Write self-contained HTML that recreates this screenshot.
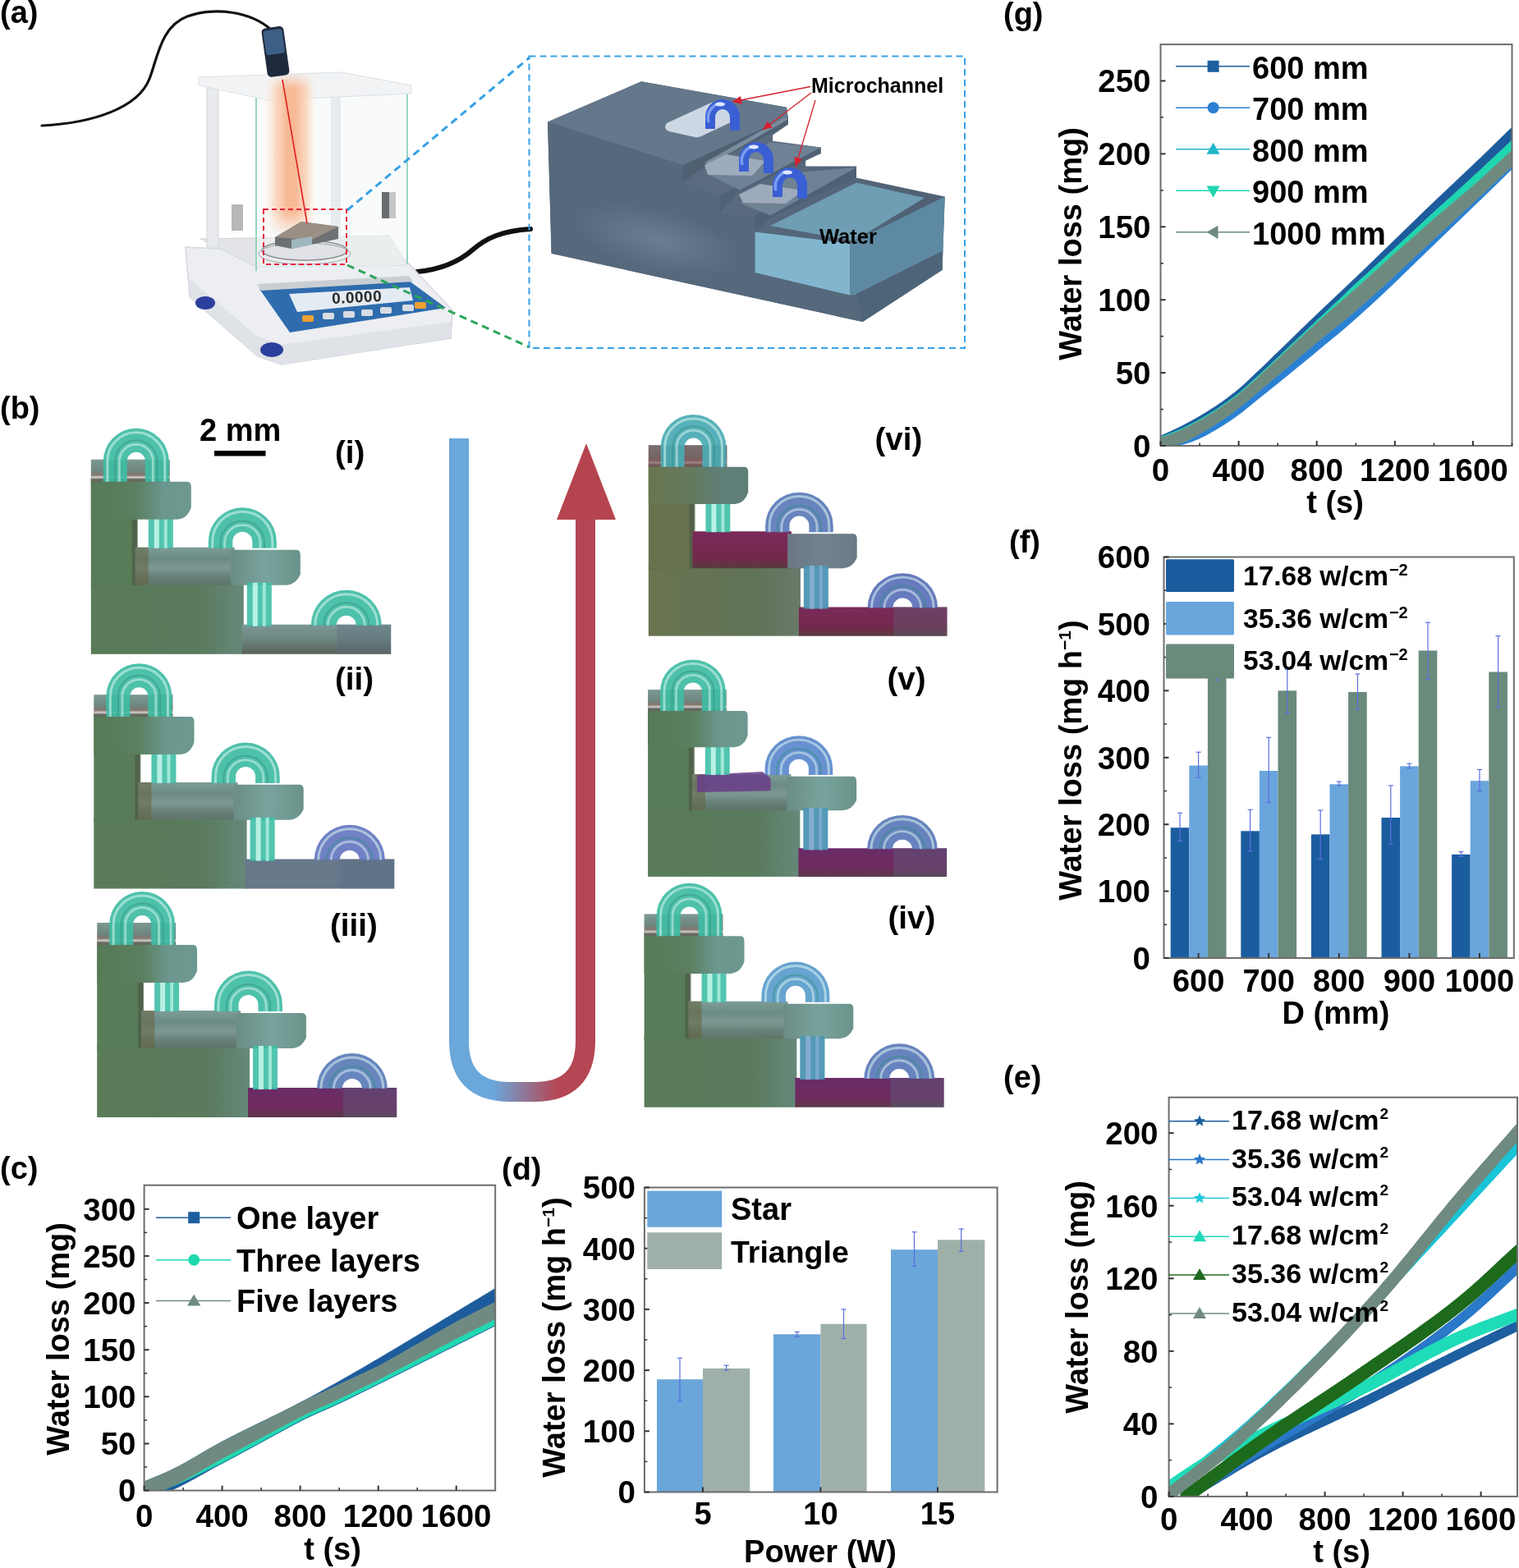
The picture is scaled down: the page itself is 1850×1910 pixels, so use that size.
<!DOCTYPE html><html><head><meta charset="utf-8"><title>Figure</title>
<style>html,body{margin:0;padding:0;background:#fff;}svg{display:block;}text{font-family:'Liberation Sans', Arial, sans-serif;font-weight:bold;}</style>
</head><body>
<svg width="1850" height="1910" viewBox="0 0 1850 1910">
<defs><linearGradient id="uarrow" x1="547" y1="0" x2="725" y2="0" gradientUnits="userSpaceOnUse"><stop offset="0" stop-color="#6aa7da"/><stop offset="0.3" stop-color="#6aa7da"/><stop offset="0.74" stop-color="#b54653"/><stop offset="1" stop-color="#b54653"/></linearGradient><linearGradient id="glow" x1="0" y1="0" x2="1" y2="0"><stop offset="0" stop-color="#ffffff" stop-opacity="0"/><stop offset="0.25" stop-color="#fbd2b8" stop-opacity="0.8"/><stop offset="0.45" stop-color="#f7b690" stop-opacity="0.95"/><stop offset="0.6" stop-color="#f7b690" stop-opacity="0.95"/><stop offset="0.8" stop-color="#fbd2b8" stop-opacity="0.8"/><stop offset="1" stop-color="#ffffff" stop-opacity="0"/></linearGradient><linearGradient id="glowv" x1="0" y1="0" x2="0" y2="1"><stop offset="0" stop-color="#fff" stop-opacity="0"/><stop offset="0.1" stop-color="#fff" stop-opacity="1"/><stop offset="0.85" stop-color="#fff" stop-opacity="1"/><stop offset="1" stop-color="#fff" stop-opacity="0"/></linearGradient><mask id="glowmask"><rect x="300" y="88" width="110" height="200" fill="url(#glowv)"/></mask><linearGradient id="frontface" x1="0" y1="0" x2="1" y2="0.3"><stop offset="0" stop-color="#4f6072"/><stop offset="0.5" stop-color="#5b6c80"/><stop offset="1" stop-color="#506174"/></linearGradient></defs>
<rect width="1850" height="1910" fill="#fff"/>
<defs><linearGradient id="pbody" x1="0" y1="0" x2="1" y2="0"><stop offset="0" stop-color="#5a7b58"/><stop offset="0.7" stop-color="#597a5c"/><stop offset="1" stop-color="#66887a"/></linearGradient><linearGradient id="pbodyvi" x1="0" y1="0" x2="1" y2="0"><stop offset="0" stop-color="#6a7450"/><stop offset="0.7" stop-color="#5f7356"/><stop offset="1" stop-color="#6a7a6a"/></linearGradient><linearGradient id="pplate" x1="0" y1="0" x2="0" y2="1"><stop offset="0" stop-color="#7d9a94"/><stop offset="0.5" stop-color="#6d857e"/><stop offset="0.68" stop-color="#86766c"/><stop offset="0.78" stop-color="#d0d2d0"/><stop offset="0.86" stop-color="#6a6860"/><stop offset="1" stop-color="#5d6a58"/></linearGradient><linearGradient id="plip" x1="0" y1="0" x2="1" y2="0"><stop offset="0" stop-color="#577a57"/><stop offset="0.45" stop-color="#5b7f60"/><stop offset="0.72" stop-color="#6b978e"/><stop offset="1" stop-color="#6c9890"/></linearGradient><linearGradient id="plipvi" x1="0" y1="0" x2="1" y2="0"><stop offset="0" stop-color="#687650"/><stop offset="0.45" stop-color="#647a5e"/><stop offset="0.72" stop-color="#5f7f78"/><stop offset="1" stop-color="#607e78"/></linearGradient><linearGradient id="pmid" x1="0" y1="0" x2="0" y2="1"><stop offset="0" stop-color="#7f9d98"/><stop offset="0.3" stop-color="#6c8a84"/><stop offset="0.55" stop-color="#7d9892"/><stop offset="0.8" stop-color="#657f78"/><stop offset="1" stop-color="#5e7468"/></linearGradient><linearGradient id="plip2" x1="0" y1="0" x2="1" y2="0"><stop offset="0" stop-color="#6b8d86"/><stop offset="0.5" stop-color="#78a39c"/><stop offset="1" stop-color="#6a928a"/></linearGradient><linearGradient id="pbot" x1="0" y1="0" x2="0" y2="1"><stop offset="0" stop-color="#7c9894"/><stop offset="0.5" stop-color="#6c8580"/><stop offset="1" stop-color="#5a625a"/></linearGradient><linearGradient id="pmag" x1="0" y1="0" x2="0" y2="1"><stop offset="0" stop-color="#6a2c68"/><stop offset="0.7" stop-color="#6e2a5e"/><stop offset="1" stop-color="#5a3a4a"/></linearGradient><linearGradient id="pmagvi" x1="0" y1="0" x2="0" y2="1"><stop offset="0" stop-color="#7a2a5a"/><stop offset="0.7" stop-color="#74284c"/><stop offset="1" stop-color="#5a3a40"/></linearGradient></defs>
<text x="0.0" y="28.0" font-size="38" text-anchor="start" fill="#000" >(a)</text>
<text x="0.0" y="510.0" font-size="38" text-anchor="start" fill="#000" >(b)</text>
<text x="0.0" y="1436.0" font-size="38" text-anchor="start" fill="#000" >(c)</text>
<text x="611.0" y="1437.0" font-size="38" text-anchor="start" fill="#000" >(d)</text>
<text x="1222.0" y="30.0" font-size="38" text-anchor="start" fill="#000" >(g)</text>
<text x="1229.0" y="673.0" font-size="38" text-anchor="start" fill="#000" >(f)</text>
<text x="1222.0" y="1325.0" font-size="38" text-anchor="start" fill="#000" >(e)</text>
<path d="M330,36 C305,14 262,8 228,20 C196,32 192,70 182,96 C168,132 112,150 51,153" fill="none" stroke="#111" stroke-width="3.2" stroke-linecap="round"/>
<path d="M508,331 C540,328 560,318 576,304 C592,290 612,281 646,279" fill="none" stroke="#111" stroke-width="6" stroke-linecap="round"/>
<polygon points="226.0,301.0 492.0,315.0 551.0,378.0 549.0,412.0 343.0,444.0 314.0,434.0 231.0,362.0" fill="#eceef1" stroke="#d5d9de" stroke-width="1.5"/>
<polygon points="231.0,340.0 314.0,410.0 343.0,420.0 549.0,392.0 549.0,412.0 343.0,444.0 314.0,434.0 231.0,362.0" fill="#dfe2e6" />
<polygon points="244.0,291.0 474.0,287.0 497.0,323.0 314.0,326.0" fill="#e2e4e7" stroke="#cfd3d8" stroke-width="1"/>
<polygon points="316.0,352.0 498.0,342.0 543.0,375.0 353.0,405.0" fill="#2f6cae" />
<polygon points="313.0,346.0 498.0,336.0 503.0,343.0 318.0,354.0" fill="#c9ced4" />
<polygon points="352.0,358.0 499.0,350.0 503.0,366.0 362.0,380.0" fill="#e3ebf3" />
<text x="404.0" y="368.5" font-size="19" text-anchor="start" fill="#2a2a2a" font-weight="normal" letter-spacing="0.5" transform="rotate(-3 434 361)">0.0000</text>
<rect x="368.0" y="384.0" width="14.0" height="8.0" fill="#f0a030" rx="2"/>
<rect x="393.0" y="381.0" width="14.0" height="8.0" fill="#d8dde4" rx="2"/>
<rect x="418.0" y="379.0" width="14.0" height="8.0" fill="#d8dde4" rx="2"/>
<rect x="440.0" y="377.0" width="14.0" height="8.0" fill="#d8dde4" rx="2"/>
<rect x="463.0" y="374.0" width="14.0" height="8.0" fill="#d8dde4" rx="2"/>
<rect x="490.0" y="371.0" width="14.0" height="8.0" fill="#d8dde4" rx="2"/>
<rect x="505.0" y="368.0" width="14.0" height="8.0" fill="#f0a030" rx="2"/>
<ellipse cx="250" cy="369" rx="12" ry="8" fill="#2b3f9c"/>
<ellipse cx="331" cy="426" rx="14" ry="9" fill="#2b3f9c"/>
<rect x="252.0" y="107.0" width="14.0" height="194.0" fill="#e8eaed" stroke="#d2d6da" stroke-width="1"/>
<rect x="403.0" y="104.0" width="12.0" height="191.0" fill="#dcdfe2" />
<polygon points="312.0,116.0 497.0,108.0 497.0,323.0 312.0,330.0" fill="#f3f8f7" fill-opacity="0.5"/>
<line x1="312.0" y1="116.0" x2="312.0" y2="330.0" stroke="#9ad3c3" stroke-width="2" />
<line x1="496.0" y1="108.0" x2="496.0" y2="322.0" stroke="#9ad3c3" stroke-width="2" />
<line x1="312.0" y1="116.0" x2="496.0" y2="108.0" stroke="#9ad3c3" stroke-width="1.5" />
<rect x="282.0" y="249.0" width="14.0" height="32.0" fill="#b6b8ba" />
<rect x="465.0" y="234.0" width="17.0" height="32.0" fill="#6a6d70" />
<rect x="474.0" y="234.0" width="8.0" height="32.0" fill="#c4c6c8" />
<polygon points="242.0,94.0 416.0,88.0 501.0,104.0 501.0,114.0 327.0,122.0 242.0,104.0" fill="#f1f3f5" stroke="#dde1e5" stroke-width="1"/>
<g mask="url(#glowmask)"><rect x="318" y="88" width="70" height="200" fill="url(#glow)"/></g>
<ellipse cx="371" cy="305" rx="52" ry="12" fill="#e0e2e5" stroke="#8e9296" stroke-width="1.5"/>
<ellipse cx="371" cy="309" rx="56" ry="13" fill="none" stroke="#a0a4a8" stroke-width="1"/>
<polygon points="335.0,289.0 367.0,270.0 412.0,276.0 412.0,291.0 355.0,303.0 335.0,299.0" fill="#6d7073" />
<polygon points="335.0,289.0 367.0,270.0 412.0,276.0 380.0,292.0" fill="#9a8f84" />
<polygon points="355.0,292.0 380.0,288.0 380.0,298.0 355.0,303.0" fill="#9fb7bf" />
<line x1="344.0" y1="97.0" x2="374.0" y2="272.0" stroke="#e0201e" stroke-width="1.6" />
<g transform="rotate(-8 335 63)"><rect x="322" y="33" width="27" height="60" rx="5" fill="#1e2a3c"/><rect x="324" y="36" width="23" height="30" rx="3" fill="#3d5f86"/></g>
<rect x="321" y="255" width="101" height="67" fill="none" stroke="#e8233f" stroke-width="2" stroke-dasharray="6 4"/>
<line x1="423.0" y1="256.0" x2="645.0" y2="70.0" stroke="#35a1e6" stroke-width="3" stroke-dasharray="9 6"/>
<line x1="423.0" y1="323.0" x2="645.0" y2="423.0" stroke="#2aa65a" stroke-width="3" stroke-dasharray="9 6"/>
<polygon points="667.0,148.6 781.0,99.3 958.1,130.7 959.7,145.5 959.7,151.7 941.2,164.6 941.2,171.7 999.7,179.4 999.7,187.1 981.2,192.3 981.2,202.5 1042.9,202.5 1042.9,216.4 1150.7,239.5 1147.6,328.8 1050.6,392.0 671.6,308.8" fill="url(#frontface)" />
<polygon points="667.0,148.6 781.0,99.3 958.1,130.7 959.7,142.4 864.2,197.9 831.8,201.0" fill="#65778b" />
<polygon points="667.0,148.6 831.8,201.0 831.8,222.5 876.5,237.9 876.5,259.5 919.6,265.7 919.6,331.9 1050.6,358.1 1050.6,392.0 671.6,308.8" fill="#56687b" />
<radialGradient id="ffhl" cx="0.5" cy="0.5" r="0.5"><stop offset="0" stop-color="#71849a" stop-opacity="0.75"/><stop offset="1" stop-color="#71849a" stop-opacity="0"/></radialGradient>
<ellipse cx="800" cy="292" rx="105" ry="38" fill="url(#ffhl)" transform="rotate(14 800 292)"/>
<polygon points="831.8,201.0 959.7,142.4 959.7,151.7 858.0,204.0 831.8,221.0" fill="#4e6072" />
<polygon points="858.0,197.9 956.6,142.4 959.7,145.5 864.2,201.0" fill="#7a8c9e" />
<polygon points="876.5,237.9 999.7,179.4 999.7,187.1 898.0,234.9 876.5,259.5" fill="#4f6174" />
<polygon points="864.2,213.3 938.1,173.2 999.7,179.4 901.1,231.8" fill="#6f8194" />
<polygon points="919.6,262.6 1042.9,202.5 1042.9,216.4 938.1,265.7 919.6,284.2" fill="#4f6174" />
<polygon points="901.1,247.2 968.9,210.2 1042.9,204.0 938.1,262.6" fill="#6f8194" />
<polygon points="858.0,201.0 884.0,188.0 932.0,196.0 916.0,214.0 862.0,213.0" fill="#9eabbc" />
<polygon points="900.0,237.0 926.0,224.0 978.0,232.0 957.0,248.0 905.0,247.0" fill="#9eabbc" />
<path d="M812,150 L864,126 Q868,124 872,125 L896,130 Q900,132 898,136 L897,142 Q896,146 892,148 L854,166 Q850,168 846,167 L815,160 Q810,158 810,154 Z" fill="#cdd7e3"/>
<polygon points="938.1,274.9 1042.9,222.5 1126.0,241.0 1039.8,293.4" fill="#6e9db4" />
<polygon points="919.6,282.6 1035.2,296.5 1035.2,359.6 919.6,331.9" fill="#82b6cf" />
<polygon points="1035.2,296.5 1150.7,239.5 1147.6,328.8 1050.6,392.0 1050.6,358.1 1035.2,359.6" fill="#5d8aa2" />
<polygon points="1042.9,358.1 1147.6,305.7 1147.6,328.8 1050.6,392.0" fill="#4e6478" />
<path d="M865.0,157.0 L865.0,143.0 A15,16 0 0 1 895.0,143.0 L895.0,159.0" fill="none" stroke="#3a5fd4" stroke-width="12"/>
<path d="M863.0,149.0 A17,18 0 0 1 878.0,126.0" fill="none" stroke="#7b9cf0" stroke-width="3.5"/>
<ellipse cx="877.0" cy="127.0" rx="6" ry="2.5" fill="#dfe8ff"/>
<path d="M906.0,209.0 L906.0,195.0 A15,16 0 0 1 936.0,195.0 L936.0,211.0" fill="none" stroke="#3a5fd4" stroke-width="12"/>
<path d="M904.0,201.0 A17,18 0 0 1 919.0,178.0" fill="none" stroke="#7b9cf0" stroke-width="3.5"/>
<ellipse cx="918.0" cy="179.0" rx="6" ry="2.5" fill="#dfe8ff"/>
<path d="M947.0,240.0 L947.0,226.0 A15,16 0 0 1 977.0,226.0 L977.0,242.0" fill="none" stroke="#3a5fd4" stroke-width="12"/>
<path d="M945.0,232.0 A17,18 0 0 1 960.0,209.0" fill="none" stroke="#7b9cf0" stroke-width="3.5"/>
<ellipse cx="959.0" cy="210.0" rx="6" ry="2.5" fill="#dfe8ff"/>
<line x1="987.0" y1="105.5" x2="892.0" y2="124.0" stroke="#d62030" stroke-width="1.3" />
<polygon points="892.0,124.0 903.8,126.8 901.8,117.0" fill="#d62030" />
<line x1="988.0" y1="113.0" x2="929.0" y2="158.0" stroke="#d62030" stroke-width="1.3" />
<polygon points="929.0,158.0 940.8,155.3 934.7,147.4" fill="#d62030" />
<line x1="993.0" y1="122.0" x2="969.0" y2="203.0" stroke="#d62030" stroke-width="1.3" />
<polygon points="969.0,203.0 976.9,193.9 967.3,191.0" fill="#d62030" />
<text x="988.0" y="112.5" font-size="25" text-anchor="start" fill="#000" >Microchannel</text>
<text x="998.0" y="296.5" font-size="25.5" text-anchor="start" fill="#000" >Water</text>
<rect x="644.5" y="68.5" width="530.5" height="355.5" fill="none" stroke="#35a1e6" stroke-width="2" stroke-dasharray="8 5"/>
<g transform="translate(110.8,559.7) scale(1.0000,1.0004)">
<rect x="0.0" y="150.0" width="186.0" height="87.0" fill="url(#pbody)" />
<rect x="0.0" y="20.0" width="56.0" height="135.0" fill="#587b58" />
<rect x="50.0" y="73.0" width="7.0" height="80.0" fill="#4c5a44" fill-opacity="0.7"/>
<rect x="0.0" y="0.0" width="96.0" height="28.0" fill="url(#pplate)" />
<path d="M54,107 L175,107 L175,153 L54,153 Z" fill="url(#pmid)"/>
<rect x="54.0" y="107.0" width="16.0" height="46.0" fill="#66643f" fill-opacity="0.55"/>
<path d="M170,110 L250,110 Q255,110 255,116 L255,140 Q250,152 238,153 L170,153 Z" fill="url(#plip2)"/>
<path d="M184,201 L365.4,201 L365.4,237 L184,237 Z" fill="url(#pbot)"/>
<rect x="300.0" y="201.0" width="65.4" height="36.0" fill="#5a6a80" fill-opacity="0.35"/>
<rect x="70.0" y="72.0" width="30.0" height="36.0" fill="#3fbfa6" fill-opacity="0.9"/>
<rect x="77.0" y="72.0" width="6.0" height="36.0" fill="#b8f0e4" />
<rect x="89.0" y="72.0" width="4.0" height="36.0" fill="#9fe8d8" />
<rect x="190.0" y="150.0" width="30.0" height="53.0" fill="#3fbfa6" fill-opacity="0.9"/>
<rect x="197.0" y="150.0" width="6.0" height="53.0" fill="#b8f0e4" />
<rect x="209.0" y="150.0" width="4.0" height="53.0" fill="#9fe8d8" />
<path d="M0,27 L117,27 Q122,27 122,33 L122,58 Q118,72 105,73 L0,73 Z" fill="url(#plip)"/>
<path d="M15.0,27.0 L15.0,2.0 A40,40 0 0 1 95.0,2.0 L95.0,27.0 L66.0,27.0 L66.0,2.0 A11,11 0 0 0 44.0,2.0 L44.0,27.0 Z" fill="#3fbca4" fill-opacity="0.92"/>
<path d="M29.5,27.0 L29.5,2.0 A25.5,25.5 0 0 1 80.5,2.0 L80.5,27.0" fill="none" stroke="#2f8f80" stroke-width="2" stroke-opacity="0.5"/>
<path d="M20.0,27.0 L20.0,2.0 A35,35 0 0 1 90.0,2.0 L90.0,27.0" fill="none" stroke="#dff8f2" stroke-width="3" stroke-opacity="0.55"/>
<path d="M34.5,27.0 L34.5,2.0 A20.5,20.5 0 0 1 75.5,2.0 L75.5,27.0" fill="none" stroke="#dff8f2" stroke-width="3" stroke-opacity="0.5"/>
<path d="M143.0,108.0 L143.0,100.0 A41.5,41.5 0 0 1 226.0,100.0 L226.0,108.0 L196.5,108.0 L196.5,100.0 A12,12 0 0 0 172.5,100.0 L172.5,108.0 Z" fill="#3fbca4" fill-opacity="0.92"/>
<path d="M157.8,108.0 L157.8,100.0 A26.75,26.75 0 0 1 211.2,100.0 L211.2,108.0" fill="none" stroke="#2f8f80" stroke-width="2" stroke-opacity="0.5"/>
<path d="M148.0,108.0 L148.0,100.0 A36.5,36.5 0 0 1 221.0,100.0 L221.0,108.0" fill="none" stroke="#dff8f2" stroke-width="3" stroke-opacity="0.55"/>
<path d="M162.8,108.0 L162.8,100.0 A21.75,21.75 0 0 1 206.2,100.0 L206.2,108.0" fill="none" stroke="#dff8f2" stroke-width="3" stroke-opacity="0.5"/>
<path d="M268.0,202.0 L268.0,202.0 A43,43 0 0 1 354.0,202.0 L354.0,202.0 L323.0,202.0 L323.0,202.0 A12,12 0 0 0 299.0,202.0 L299.0,202.0 Z" fill="#3fbca4" fill-opacity="0.92"/>
<path d="M283.5,202.0 L283.5,202.0 A27.5,27.5 0 0 1 338.5,202.0 L338.5,202.0" fill="none" stroke="#2f8f80" stroke-width="2" stroke-opacity="0.5"/>
<path d="M273.0,202.0 L273.0,202.0 A38,38 0 0 1 349.0,202.0 L349.0,202.0" fill="none" stroke="#dff8f2" stroke-width="3" stroke-opacity="0.55"/>
<path d="M288.5,202.0 L288.5,202.0 A22.5,22.5 0 0 1 333.5,202.0 L333.5,202.0" fill="none" stroke="#dff8f2" stroke-width="3" stroke-opacity="0.5"/>
</g>
<g transform="translate(114.3,846.2) scale(1.0016,0.9970)">
<rect x="0.0" y="150.0" width="186.0" height="87.0" fill="url(#pbody)" />
<rect x="0.0" y="20.0" width="56.0" height="135.0" fill="#587b58" />
<rect x="50.0" y="73.0" width="7.0" height="80.0" fill="#4c5a44" fill-opacity="0.7"/>
<rect x="0.0" y="0.0" width="96.0" height="28.0" fill="url(#pplate)" />
<path d="M54,107 L175,107 L175,153 L54,153 Z" fill="url(#pmid)"/>
<rect x="54.0" y="107.0" width="16.0" height="46.0" fill="#66643f" fill-opacity="0.55"/>
<path d="M170,110 L250,110 Q255,110 255,116 L255,140 Q250,152 238,153 L170,153 Z" fill="url(#plip2)"/>
<path d="M184,201 L365.4,201 L365.4,237 L184,237 Z" fill="#66788a"/>
<rect x="300.0" y="201.0" width="65.4" height="36.0" fill="#5a6a80" fill-opacity="0.35"/>
<rect x="70.0" y="72.0" width="30.0" height="36.0" fill="#3fbfa6" fill-opacity="0.9"/>
<rect x="77.0" y="72.0" width="6.0" height="36.0" fill="#b8f0e4" />
<rect x="89.0" y="72.0" width="4.0" height="36.0" fill="#9fe8d8" />
<rect x="190.0" y="150.0" width="30.0" height="53.0" fill="#3fbfa6" fill-opacity="0.9"/>
<rect x="197.0" y="150.0" width="6.0" height="53.0" fill="#b8f0e4" />
<rect x="209.0" y="150.0" width="4.0" height="53.0" fill="#9fe8d8" />
<path d="M0,27 L117,27 Q122,27 122,33 L122,58 Q118,72 105,73 L0,73 Z" fill="url(#plip)"/>
<path d="M15.0,27.0 L15.0,2.0 A40,40 0 0 1 95.0,2.0 L95.0,27.0 L66.0,27.0 L66.0,2.0 A11,11 0 0 0 44.0,2.0 L44.0,27.0 Z" fill="#3fbca4" fill-opacity="0.92"/>
<path d="M29.5,27.0 L29.5,2.0 A25.5,25.5 0 0 1 80.5,2.0 L80.5,27.0" fill="none" stroke="#2f8f80" stroke-width="2" stroke-opacity="0.5"/>
<path d="M20.0,27.0 L20.0,2.0 A35,35 0 0 1 90.0,2.0 L90.0,27.0" fill="none" stroke="#dff8f2" stroke-width="3" stroke-opacity="0.55"/>
<path d="M34.5,27.0 L34.5,2.0 A20.5,20.5 0 0 1 75.5,2.0 L75.5,27.0" fill="none" stroke="#dff8f2" stroke-width="3" stroke-opacity="0.5"/>
<path d="M143.0,108.0 L143.0,100.0 A41.5,41.5 0 0 1 226.0,100.0 L226.0,108.0 L196.5,108.0 L196.5,100.0 A12,12 0 0 0 172.5,100.0 L172.5,108.0 Z" fill="#3fbca4" fill-opacity="0.92"/>
<path d="M157.8,108.0 L157.8,100.0 A26.75,26.75 0 0 1 211.2,100.0 L211.2,108.0" fill="none" stroke="#2f8f80" stroke-width="2" stroke-opacity="0.5"/>
<path d="M148.0,108.0 L148.0,100.0 A36.5,36.5 0 0 1 221.0,100.0 L221.0,108.0" fill="none" stroke="#dff8f2" stroke-width="3" stroke-opacity="0.55"/>
<path d="M162.8,108.0 L162.8,100.0 A21.75,21.75 0 0 1 206.2,100.0 L206.2,108.0" fill="none" stroke="#dff8f2" stroke-width="3" stroke-opacity="0.5"/>
<path d="M268.0,202.0 L268.0,202.0 A43,43 0 0 1 354.0,202.0 L354.0,202.0 L323.0,202.0 L323.0,202.0 A12,12 0 0 0 299.0,202.0 L299.0,202.0 Z" fill="#6476c0" fill-opacity="0.92"/>
<path d="M283.5,202.0 L283.5,202.0 A27.5,27.5 0 0 1 338.5,202.0 L338.5,202.0" fill="none" stroke="#2f8f80" stroke-width="2" stroke-opacity="0.5"/>
<path d="M273.0,202.0 L273.0,202.0 A38,38 0 0 1 349.0,202.0 L349.0,202.0" fill="none" stroke="#dff8f2" stroke-width="3" stroke-opacity="0.55"/>
<path d="M288.5,202.0 L288.5,202.0 A22.5,22.5 0 0 1 333.5,202.0 L333.5,202.0" fill="none" stroke="#dff8f2" stroke-width="3" stroke-opacity="0.5"/>
</g>
<g transform="translate(118.2,1124.0) scale(0.9989,1.0000)">
<rect x="0.0" y="150.0" width="186.0" height="87.0" fill="url(#pbody)" />
<rect x="0.0" y="20.0" width="56.0" height="135.0" fill="#587b58" />
<rect x="50.0" y="73.0" width="7.0" height="80.0" fill="#4c5a44" fill-opacity="0.7"/>
<rect x="0.0" y="0.0" width="96.0" height="28.0" fill="url(#pplate)" />
<path d="M54,107 L175,107 L175,153 L54,153 Z" fill="url(#pmid)"/>
<rect x="54.0" y="107.0" width="16.0" height="46.0" fill="#66643f" fill-opacity="0.55"/>
<path d="M170,110 L250,110 Q255,110 255,116 L255,140 Q250,152 238,153 L170,153 Z" fill="url(#plip2)"/>
<path d="M184,201 L365.4,201 L365.4,237 L184,237 Z" fill="url(#pmag)"/>
<rect x="300.0" y="201.0" width="65.4" height="36.0" fill="#5a6a80" fill-opacity="0.35"/>
<rect x="70.0" y="72.0" width="30.0" height="36.0" fill="#3fbfa6" fill-opacity="0.9"/>
<rect x="77.0" y="72.0" width="6.0" height="36.0" fill="#b8f0e4" />
<rect x="89.0" y="72.0" width="4.0" height="36.0" fill="#9fe8d8" />
<rect x="190.0" y="150.0" width="30.0" height="53.0" fill="#3fbfa6" fill-opacity="0.9"/>
<rect x="197.0" y="150.0" width="6.0" height="53.0" fill="#b8f0e4" />
<rect x="209.0" y="150.0" width="4.0" height="53.0" fill="#9fe8d8" />
<path d="M0,27 L117,27 Q122,27 122,33 L122,58 Q118,72 105,73 L0,73 Z" fill="url(#plip)"/>
<path d="M15.0,27.0 L15.0,2.0 A40,40 0 0 1 95.0,2.0 L95.0,27.0 L66.0,27.0 L66.0,2.0 A11,11 0 0 0 44.0,2.0 L44.0,27.0 Z" fill="#3fbca4" fill-opacity="0.92"/>
<path d="M29.5,27.0 L29.5,2.0 A25.5,25.5 0 0 1 80.5,2.0 L80.5,27.0" fill="none" stroke="#2f8f80" stroke-width="2" stroke-opacity="0.5"/>
<path d="M20.0,27.0 L20.0,2.0 A35,35 0 0 1 90.0,2.0 L90.0,27.0" fill="none" stroke="#dff8f2" stroke-width="3" stroke-opacity="0.55"/>
<path d="M34.5,27.0 L34.5,2.0 A20.5,20.5 0 0 1 75.5,2.0 L75.5,27.0" fill="none" stroke="#dff8f2" stroke-width="3" stroke-opacity="0.5"/>
<path d="M143.0,108.0 L143.0,100.0 A41.5,41.5 0 0 1 226.0,100.0 L226.0,108.0 L196.5,108.0 L196.5,100.0 A12,12 0 0 0 172.5,100.0 L172.5,108.0 Z" fill="#3fbca4" fill-opacity="0.92"/>
<path d="M157.8,108.0 L157.8,100.0 A26.75,26.75 0 0 1 211.2,100.0 L211.2,108.0" fill="none" stroke="#2f8f80" stroke-width="2" stroke-opacity="0.5"/>
<path d="M148.0,108.0 L148.0,100.0 A36.5,36.5 0 0 1 221.0,100.0 L221.0,108.0" fill="none" stroke="#dff8f2" stroke-width="3" stroke-opacity="0.55"/>
<path d="M162.8,108.0 L162.8,100.0 A21.75,21.75 0 0 1 206.2,100.0 L206.2,108.0" fill="none" stroke="#dff8f2" stroke-width="3" stroke-opacity="0.5"/>
<path d="M268.0,202.0 L268.0,202.0 A43,43 0 0 1 354.0,202.0 L354.0,202.0 L323.0,202.0 L323.0,202.0 A12,12 0 0 0 299.0,202.0 L299.0,202.0 Z" fill="#5a7cb8" fill-opacity="0.92"/>
<path d="M283.5,202.0 L283.5,202.0 A27.5,27.5 0 0 1 338.5,202.0 L338.5,202.0" fill="none" stroke="#2f8f80" stroke-width="2" stroke-opacity="0.5"/>
<path d="M273.0,202.0 L273.0,202.0 A38,38 0 0 1 349.0,202.0 L349.0,202.0" fill="none" stroke="#dff8f2" stroke-width="3" stroke-opacity="0.55"/>
<path d="M288.5,202.0 L288.5,202.0 A22.5,22.5 0 0 1 333.5,202.0 L333.5,202.0" fill="none" stroke="#dff8f2" stroke-width="3" stroke-opacity="0.5"/>
</g>
<g transform="translate(789.8,542.3) scale(0.9953,0.9806)">
<rect x="0.0" y="150.0" width="186.0" height="87.0" fill="url(#pbodyvi)" />
<rect x="0.0" y="20.0" width="56.0" height="135.0" fill="#66724e" />
<rect x="50.0" y="73.0" width="7.0" height="80.0" fill="#4c5a44" fill-opacity="0.7"/>
<rect x="0.0" y="0.0" width="96.0" height="28.0" fill="url(#pplate)" />
<rect x="0.0" y="0.0" width="96.0" height="28.0" fill="#7a4a50" fill-opacity="0.55"/>
<path d="M54,107 L175,107 L175,153 L54,153 Z" fill="url(#pmagvi)"/>
<path d="M170,110 L250,110 Q255,110 255,116 L255,140 Q250,152 238,153 L170,153 Z" fill="url(#plip2)"/>
<path d="M170,110 L250,110 Q255,110 255,116 L255,140 Q250,152 238,153 L170,153 Z" fill="#6a5a80" fill-opacity="0.45"/>
<path d="M184,201 L365.4,201 L365.4,237 L184,237 Z" fill="url(#pmagvi)"/>
<rect x="300.0" y="201.0" width="65.4" height="36.0" fill="#5a6a80" fill-opacity="0.35"/>
<rect x="70.0" y="72.0" width="30.0" height="36.0" fill="#3fbfa6" fill-opacity="0.9"/>
<rect x="77.0" y="72.0" width="6.0" height="36.0" fill="#b8f0e4" />
<rect x="89.0" y="72.0" width="4.0" height="36.0" fill="#9fe8d8" />
<rect x="190.0" y="150.0" width="30.0" height="53.0" fill="#3fbfa6" fill-opacity="0.9"/>
<rect x="197.0" y="150.0" width="6.0" height="53.0" fill="#b8f0e4" />
<rect x="209.0" y="150.0" width="4.0" height="53.0" fill="#9fe8d8" />
<rect x="190.0" y="150.0" width="30.0" height="53.0" fill="#5a74c0" fill-opacity="0.55"/>
<path d="M0,27 L117,27 Q122,27 122,33 L122,58 Q118,72 105,73 L0,73 Z" fill="url(#plipvi)"/>
<path d="M15.0,27.0 L15.0,2.0 A40,40 0 0 1 95.0,2.0 L95.0,27.0 L66.0,27.0 L66.0,2.0 A11,11 0 0 0 44.0,2.0 L44.0,27.0 Z" fill="#4aaab4" fill-opacity="0.92"/>
<path d="M29.5,27.0 L29.5,2.0 A25.5,25.5 0 0 1 80.5,2.0 L80.5,27.0" fill="none" stroke="#2f8f80" stroke-width="2" stroke-opacity="0.5"/>
<path d="M20.0,27.0 L20.0,2.0 A35,35 0 0 1 90.0,2.0 L90.0,27.0" fill="none" stroke="#dff8f2" stroke-width="3" stroke-opacity="0.55"/>
<path d="M34.5,27.0 L34.5,2.0 A20.5,20.5 0 0 1 75.5,2.0 L75.5,27.0" fill="none" stroke="#dff8f2" stroke-width="3" stroke-opacity="0.5"/>
<path d="M143.0,108.0 L143.0,100.0 A41.5,41.5 0 0 1 226.0,100.0 L226.0,108.0 L196.5,108.0 L196.5,100.0 A12,12 0 0 0 172.5,100.0 L172.5,108.0 Z" fill="#5a7ab8" fill-opacity="0.92"/>
<path d="M157.8,108.0 L157.8,100.0 A26.75,26.75 0 0 1 211.2,100.0 L211.2,108.0" fill="none" stroke="#2f8f80" stroke-width="2" stroke-opacity="0.5"/>
<path d="M148.0,108.0 L148.0,100.0 A36.5,36.5 0 0 1 221.0,100.0 L221.0,108.0" fill="none" stroke="#dff8f2" stroke-width="3" stroke-opacity="0.55"/>
<path d="M162.8,108.0 L162.8,100.0 A21.75,21.75 0 0 1 206.2,100.0 L206.2,108.0" fill="none" stroke="#dff8f2" stroke-width="3" stroke-opacity="0.5"/>
<path d="M268.0,202.0 L268.0,202.0 A43,43 0 0 1 354.0,202.0 L354.0,202.0 L323.0,202.0 L323.0,202.0 A12,12 0 0 0 299.0,202.0 L299.0,202.0 Z" fill="#5a70b8" fill-opacity="0.92"/>
<path d="M283.5,202.0 L283.5,202.0 A27.5,27.5 0 0 1 338.5,202.0 L338.5,202.0" fill="none" stroke="#2f8f80" stroke-width="2" stroke-opacity="0.5"/>
<path d="M273.0,202.0 L273.0,202.0 A38,38 0 0 1 349.0,202.0 L349.0,202.0" fill="none" stroke="#dff8f2" stroke-width="3" stroke-opacity="0.55"/>
<path d="M288.5,202.0 L288.5,202.0 A22.5,22.5 0 0 1 333.5,202.0 L333.5,202.0" fill="none" stroke="#dff8f2" stroke-width="3" stroke-opacity="0.5"/>
</g>
<g transform="translate(789.1,840.1) scale(0.9962,0.9612)">
<rect x="0.0" y="150.0" width="186.0" height="87.0" fill="url(#pbody)" />
<rect x="0.0" y="20.0" width="56.0" height="135.0" fill="#587b58" />
<rect x="50.0" y="73.0" width="7.0" height="80.0" fill="#4c5a44" fill-opacity="0.7"/>
<rect x="0.0" y="0.0" width="96.0" height="28.0" fill="url(#pplate)" />
<path d="M54,107 L175,107 L175,153 L54,153 Z" fill="url(#pmid)"/>
<rect x="54.0" y="107.0" width="16.0" height="46.0" fill="#66643f" fill-opacity="0.55"/>
<path d="M60,108 L140,104 L150,112 L150,128 L60,130 Z" fill="#6a3c88" fill-opacity="0.85"/>
<path d="M170,110 L250,110 Q255,110 255,116 L255,140 Q250,152 238,153 L170,153 Z" fill="url(#plip2)"/>
<path d="M184,201 L365.4,201 L365.4,237 L184,237 Z" fill="url(#pmag)"/>
<rect x="300.0" y="201.0" width="65.4" height="36.0" fill="#5a6a80" fill-opacity="0.35"/>
<rect x="70.0" y="72.0" width="30.0" height="36.0" fill="#3fbfa6" fill-opacity="0.9"/>
<rect x="77.0" y="72.0" width="6.0" height="36.0" fill="#b8f0e4" />
<rect x="89.0" y="72.0" width="4.0" height="36.0" fill="#9fe8d8" />
<rect x="190.0" y="150.0" width="30.0" height="53.0" fill="#3fbfa6" fill-opacity="0.9"/>
<rect x="197.0" y="150.0" width="6.0" height="53.0" fill="#b8f0e4" />
<rect x="209.0" y="150.0" width="4.0" height="53.0" fill="#9fe8d8" />
<rect x="190.0" y="150.0" width="30.0" height="53.0" fill="#5a74c0" fill-opacity="0.55"/>
<path d="M0,27 L117,27 Q122,27 122,33 L122,58 Q118,72 105,73 L0,73 Z" fill="url(#plip)"/>
<path d="M15.0,27.0 L15.0,2.0 A40,40 0 0 1 95.0,2.0 L95.0,27.0 L66.0,27.0 L66.0,2.0 A11,11 0 0 0 44.0,2.0 L44.0,27.0 Z" fill="#3fbca4" fill-opacity="0.92"/>
<path d="M29.5,27.0 L29.5,2.0 A25.5,25.5 0 0 1 80.5,2.0 L80.5,27.0" fill="none" stroke="#2f8f80" stroke-width="2" stroke-opacity="0.5"/>
<path d="M20.0,27.0 L20.0,2.0 A35,35 0 0 1 90.0,2.0 L90.0,27.0" fill="none" stroke="#dff8f2" stroke-width="3" stroke-opacity="0.55"/>
<path d="M34.5,27.0 L34.5,2.0 A20.5,20.5 0 0 1 75.5,2.0 L75.5,27.0" fill="none" stroke="#dff8f2" stroke-width="3" stroke-opacity="0.5"/>
<path d="M143.0,108.0 L143.0,100.0 A41.5,41.5 0 0 1 226.0,100.0 L226.0,108.0 L196.5,108.0 L196.5,100.0 A12,12 0 0 0 172.5,100.0 L172.5,108.0 Z" fill="#5a88cc" fill-opacity="0.92"/>
<path d="M157.8,108.0 L157.8,100.0 A26.75,26.75 0 0 1 211.2,100.0 L211.2,108.0" fill="none" stroke="#2f8f80" stroke-width="2" stroke-opacity="0.5"/>
<path d="M148.0,108.0 L148.0,100.0 A36.5,36.5 0 0 1 221.0,100.0 L221.0,108.0" fill="none" stroke="#dff8f2" stroke-width="3" stroke-opacity="0.55"/>
<path d="M162.8,108.0 L162.8,100.0 A21.75,21.75 0 0 1 206.2,100.0 L206.2,108.0" fill="none" stroke="#dff8f2" stroke-width="3" stroke-opacity="0.5"/>
<path d="M268.0,202.0 L268.0,202.0 A43,43 0 0 1 354.0,202.0 L354.0,202.0 L323.0,202.0 L323.0,202.0 A12,12 0 0 0 299.0,202.0 L299.0,202.0 Z" fill="#5a78b8" fill-opacity="0.92"/>
<path d="M283.5,202.0 L283.5,202.0 A27.5,27.5 0 0 1 338.5,202.0 L338.5,202.0" fill="none" stroke="#2f8f80" stroke-width="2" stroke-opacity="0.5"/>
<path d="M273.0,202.0 L273.0,202.0 A38,38 0 0 1 349.0,202.0 L349.0,202.0" fill="none" stroke="#dff8f2" stroke-width="3" stroke-opacity="0.55"/>
<path d="M288.5,202.0 L288.5,202.0 A22.5,22.5 0 0 1 333.5,202.0 L333.5,202.0" fill="none" stroke="#dff8f2" stroke-width="3" stroke-opacity="0.5"/>
</g>
<g transform="translate(784.6,1113.4) scale(0.9989,0.9932)">
<rect x="0.0" y="150.0" width="186.0" height="87.0" fill="url(#pbody)" />
<rect x="0.0" y="20.0" width="56.0" height="135.0" fill="#587b58" />
<rect x="50.0" y="73.0" width="7.0" height="80.0" fill="#4c5a44" fill-opacity="0.7"/>
<rect x="0.0" y="0.0" width="96.0" height="28.0" fill="url(#pplate)" />
<path d="M54,107 L175,107 L175,153 L54,153 Z" fill="url(#pmid)"/>
<rect x="54.0" y="107.0" width="16.0" height="46.0" fill="#66643f" fill-opacity="0.55"/>
<path d="M170,110 L250,110 Q255,110 255,116 L255,140 Q250,152 238,153 L170,153 Z" fill="url(#plip2)"/>
<path d="M184,201 L365.4,201 L365.4,237 L184,237 Z" fill="url(#pmag)"/>
<rect x="300.0" y="201.0" width="65.4" height="36.0" fill="#5a6a80" fill-opacity="0.35"/>
<rect x="70.0" y="72.0" width="30.0" height="36.0" fill="#3fbfa6" fill-opacity="0.9"/>
<rect x="77.0" y="72.0" width="6.0" height="36.0" fill="#b8f0e4" />
<rect x="89.0" y="72.0" width="4.0" height="36.0" fill="#9fe8d8" />
<rect x="190.0" y="150.0" width="30.0" height="53.0" fill="#3fbfa6" fill-opacity="0.9"/>
<rect x="197.0" y="150.0" width="6.0" height="53.0" fill="#b8f0e4" />
<rect x="209.0" y="150.0" width="4.0" height="53.0" fill="#9fe8d8" />
<rect x="190.0" y="150.0" width="30.0" height="53.0" fill="#5a74c0" fill-opacity="0.55"/>
<path d="M0,27 L117,27 Q122,27 122,33 L122,58 Q118,72 105,73 L0,73 Z" fill="url(#plip)"/>
<path d="M15.0,27.0 L15.0,2.0 A40,40 0 0 1 95.0,2.0 L95.0,27.0 L66.0,27.0 L66.0,2.0 A11,11 0 0 0 44.0,2.0 L44.0,27.0 Z" fill="#3fbca4" fill-opacity="0.92"/>
<path d="M29.5,27.0 L29.5,2.0 A25.5,25.5 0 0 1 80.5,2.0 L80.5,27.0" fill="none" stroke="#2f8f80" stroke-width="2" stroke-opacity="0.5"/>
<path d="M20.0,27.0 L20.0,2.0 A35,35 0 0 1 90.0,2.0 L90.0,27.0" fill="none" stroke="#dff8f2" stroke-width="3" stroke-opacity="0.55"/>
<path d="M34.5,27.0 L34.5,2.0 A20.5,20.5 0 0 1 75.5,2.0 L75.5,27.0" fill="none" stroke="#dff8f2" stroke-width="3" stroke-opacity="0.5"/>
<path d="M143.0,108.0 L143.0,100.0 A41.5,41.5 0 0 1 226.0,100.0 L226.0,108.0 L196.5,108.0 L196.5,100.0 A12,12 0 0 0 172.5,100.0 L172.5,108.0 Z" fill="#5a9ccc" fill-opacity="0.92"/>
<path d="M157.8,108.0 L157.8,100.0 A26.75,26.75 0 0 1 211.2,100.0 L211.2,108.0" fill="none" stroke="#2f8f80" stroke-width="2" stroke-opacity="0.5"/>
<path d="M148.0,108.0 L148.0,100.0 A36.5,36.5 0 0 1 221.0,100.0 L221.0,108.0" fill="none" stroke="#dff8f2" stroke-width="3" stroke-opacity="0.55"/>
<path d="M162.8,108.0 L162.8,100.0 A21.75,21.75 0 0 1 206.2,100.0 L206.2,108.0" fill="none" stroke="#dff8f2" stroke-width="3" stroke-opacity="0.5"/>
<path d="M268.0,202.0 L268.0,202.0 A43,43 0 0 1 354.0,202.0 L354.0,202.0 L323.0,202.0 L323.0,202.0 A12,12 0 0 0 299.0,202.0 L299.0,202.0 Z" fill="#5a78b8" fill-opacity="0.92"/>
<path d="M283.5,202.0 L283.5,202.0 A27.5,27.5 0 0 1 338.5,202.0 L338.5,202.0" fill="none" stroke="#2f8f80" stroke-width="2" stroke-opacity="0.5"/>
<path d="M273.0,202.0 L273.0,202.0 A38,38 0 0 1 349.0,202.0 L349.0,202.0" fill="none" stroke="#dff8f2" stroke-width="3" stroke-opacity="0.55"/>
<path d="M288.5,202.0 L288.5,202.0 A22.5,22.5 0 0 1 333.5,202.0 L333.5,202.0" fill="none" stroke="#dff8f2" stroke-width="3" stroke-opacity="0.5"/>
</g>
<text x="243.0" y="536.5" font-size="38" text-anchor="start" fill="#000" >2 mm</text>
<rect x="261.0" y="549.0" width="62.5" height="6.5" fill="#000" />
<text x="408.0" y="564.0" font-size="38.5" text-anchor="start" fill="#000" >(i)</text>
<text x="408.0" y="839.5" font-size="38.5" text-anchor="start" fill="#000" >(ii)</text>
<text x="402.0" y="1140.0" font-size="38.5" text-anchor="start" fill="#000" >(iii)</text>
<text x="1065.5" y="547.5" font-size="38.5" text-anchor="start" fill="#000" >(vi)</text>
<text x="1080.5" y="839.5" font-size="38.5" text-anchor="start" fill="#000" >(v)</text>
<text x="1081.5" y="1131.0" font-size="38.5" text-anchor="start" fill="#000" >(iv)</text>
<path d="M559,534 L559,1268 Q559,1330 621,1330 L651,1330 Q713,1330 713,1268 L713,628" fill="none" stroke="url(#uarrow)" stroke-width="24"/>
<polygon points="714.0,540.0 750.0,633.0 678.0,633.0" fill="#b5444f" />
<clipPath id="clipg"><rect x="1413.5" y="54.05000000000001" width="428.0" height="488.95"/></clipPath>
<g clip-path="url(#clipg)">
<polygon points="1413.5,531.0 1418.3,528.8 1423.0,526.7 1427.8,524.5 1432.5,522.3 1437.3,520.0 1442.0,517.6 1446.8,515.0 1451.5,512.4 1456.3,509.8 1461.1,507.0 1465.8,504.2 1470.6,501.3 1475.3,498.3 1480.1,495.2 1484.8,492.0 1489.6,488.7 1494.3,485.2 1499.1,481.6 1503.9,477.9 1508.6,474.0 1513.4,469.9 1518.1,465.6 1522.9,461.1 1527.6,456.5 1532.4,452.0 1537.1,447.5 1541.9,442.9 1546.7,438.2 1551.4,433.6 1556.2,429.0 1560.9,424.4 1565.7,419.8 1570.4,415.2 1575.2,410.6 1579.9,405.9 1584.7,401.3 1589.5,396.7 1594.2,392.1 1599.0,387.6 1603.7,383.0 1608.5,378.5 1613.2,374.0 1618.0,369.5 1622.7,365.0 1627.5,360.5 1632.3,356.0 1637.0,351.5 1641.8,347.0 1646.5,342.5 1651.3,338.0 1656.0,333.4 1660.8,328.9 1665.5,324.3 1670.3,319.7 1675.1,315.1 1679.8,310.4 1684.6,305.8 1689.3,301.2 1694.1,296.6 1698.8,292.0 1703.6,287.4 1708.3,282.8 1713.1,278.2 1717.9,273.6 1722.6,268.9 1727.4,264.3 1732.1,259.7 1736.9,255.1 1741.6,250.6 1746.4,246.0 1751.1,241.5 1755.9,237.0 1760.7,232.5 1765.4,228.0 1770.2,223.5 1774.9,219.0 1779.7,214.5 1784.4,210.0 1789.2,205.5 1793.9,201.0 1798.7,196.4 1803.5,191.9 1808.2,187.3 1813.0,182.7 1817.7,178.1 1822.5,173.4 1827.2,168.8 1832.0,164.2 1836.7,159.6 1841.5,155.0 1841.5,170.8 1836.7,175.3 1832.0,179.7 1827.2,184.2 1822.5,188.6 1817.7,193.1 1813.0,197.6 1808.2,202.0 1803.5,206.5 1798.7,210.9 1793.9,215.3 1789.2,219.6 1784.4,223.9 1779.7,228.3 1774.9,232.6 1770.2,236.9 1765.4,241.2 1760.7,245.5 1755.9,249.8 1751.1,254.1 1746.4,258.5 1741.6,262.8 1736.9,267.2 1732.1,271.6 1727.4,276.0 1722.6,280.4 1717.9,284.8 1713.1,289.2 1708.3,293.6 1703.6,298.0 1698.8,302.4 1694.1,306.7 1689.3,311.1 1684.6,315.4 1679.8,319.7 1675.1,324.1 1670.3,328.4 1665.5,332.7 1660.8,337.0 1656.0,341.2 1651.3,345.5 1646.5,350.1 1641.8,354.6 1637.0,359.2 1632.3,363.7 1627.5,368.2 1622.7,372.6 1618.0,377.1 1613.2,381.6 1608.5,386.1 1603.7,390.6 1599.0,395.1 1594.2,399.6 1589.5,404.1 1584.7,408.5 1579.9,413.0 1575.2,417.5 1570.4,422.0 1565.7,426.5 1560.9,431.0 1556.2,435.5 1551.4,439.9 1546.7,444.4 1541.9,448.9 1537.1,453.4 1532.4,457.8 1527.6,462.1 1522.9,466.5 1518.1,470.8 1513.4,475.0 1508.6,479.0 1503.9,482.7 1499.1,486.3 1494.3,489.8 1489.6,493.1 1484.8,496.4 1480.1,499.5 1475.3,502.5 1470.6,505.5 1465.8,508.3 1461.1,511.1 1456.3,513.7 1451.5,516.2 1446.8,518.6 1442.0,520.9 1437.3,523.1 1432.5,525.1 1427.8,527.0 1423.0,528.8 1418.3,530.6 1413.5,532.4" fill="#1d5c9c" stroke="#1d5c9c" stroke-width="0.6"/>
<polygon points="1413.5,532.4 1418.3,530.6 1423.0,528.8 1427.8,527.0 1432.5,525.1 1437.3,523.1 1442.0,520.9 1446.8,518.6 1451.5,516.2 1456.3,513.7 1461.1,511.1 1465.8,508.3 1470.6,505.5 1475.3,502.5 1480.1,499.5 1484.8,496.4 1489.6,493.1 1494.3,489.8 1499.1,486.3 1503.9,482.7 1508.6,479.0 1513.4,475.0 1518.1,470.8 1522.9,466.5 1527.6,462.1 1532.4,457.8 1537.1,453.4 1541.9,448.9 1546.7,444.4 1551.4,439.9 1556.2,435.5 1560.9,431.0 1565.7,426.5 1570.4,422.0 1575.2,417.5 1579.9,413.0 1584.7,408.5 1589.5,404.1 1594.2,399.6 1599.0,395.1 1603.7,390.6 1608.5,386.1 1613.2,381.6 1618.0,377.1 1622.7,372.6 1627.5,368.2 1632.3,363.7 1637.0,359.2 1641.8,354.6 1646.5,350.1 1651.3,345.5 1656.0,341.2 1660.8,337.0 1665.5,332.7 1670.3,328.4 1675.1,324.1 1679.8,319.7 1684.6,315.4 1689.3,311.1 1694.1,306.7 1698.8,302.4 1703.6,298.0 1708.3,293.6 1713.1,289.2 1717.9,284.8 1722.6,280.4 1727.4,276.0 1732.1,271.6 1736.9,267.2 1741.6,262.8 1746.4,258.5 1751.1,254.1 1755.9,249.8 1760.7,245.5 1765.4,241.2 1770.2,236.9 1774.9,232.6 1779.7,228.3 1784.4,223.9 1789.2,219.6 1793.9,215.3 1798.7,210.9 1803.5,206.5 1808.2,202.0 1813.0,197.6 1817.7,193.1 1822.5,188.6 1827.2,184.2 1832.0,179.7 1836.7,175.3 1841.5,170.8 1841.5,183.1 1836.7,187.4 1832.0,191.8 1827.2,196.1 1822.5,200.5 1817.7,204.8 1813.0,209.2 1808.2,213.5 1803.5,217.9 1798.7,222.2 1793.9,226.5 1789.2,230.5 1784.4,234.6 1779.7,238.6 1774.9,242.6 1770.2,246.7 1765.4,250.7 1760.7,254.7 1755.9,258.7 1751.1,262.8 1746.4,266.8 1741.6,270.9 1736.9,275.1 1732.1,279.3 1727.4,283.5 1722.6,287.7 1717.9,291.9 1713.1,296.1 1708.3,300.3 1703.6,304.5 1698.8,308.6 1694.1,313.0 1689.3,317.3 1684.6,321.6 1679.8,325.9 1675.1,330.2 1670.3,334.5 1665.5,338.8 1660.8,343.0 1656.0,347.3 1651.3,351.5 1646.5,355.8 1641.8,360.0 1637.0,364.1 1632.3,368.3 1627.5,372.5 1622.7,376.6 1618.0,380.8 1613.2,384.9 1608.5,389.1 1603.7,393.4 1599.0,397.7 1594.2,402.1 1589.5,406.5 1584.7,410.9 1579.9,415.3 1575.2,419.7 1570.4,424.1 1565.7,428.6 1560.9,433.0 1556.2,437.4 1551.4,441.8 1546.7,446.3 1541.9,450.7 1537.1,455.1 1532.4,459.5 1527.6,463.8 1522.9,468.1 1518.1,472.4 1513.4,476.6 1508.6,480.5 1503.9,484.2 1499.1,487.8 1494.3,491.3 1489.6,494.6 1484.8,497.8 1480.1,500.9 1475.3,504.0 1470.6,506.9 1465.8,509.7 1461.1,512.4 1456.3,515.0 1451.5,517.5 1446.8,519.9 1442.0,522.2 1437.3,524.4 1432.5,526.4 1427.8,528.2 1423.0,530.0 1418.3,531.7 1413.5,533.4" fill="#1fd6b0" stroke="#1fd6b0" stroke-width="0.6"/>
<polygon points="1413.5,533.4 1418.3,531.7 1423.0,530.0 1427.8,528.2 1432.5,526.4 1437.3,524.4 1442.0,522.2 1446.8,519.9 1451.5,517.5 1456.3,515.0 1461.1,512.4 1465.8,509.7 1470.6,506.9 1475.3,504.0 1480.1,500.9 1484.8,497.8 1489.6,494.6 1494.3,491.3 1499.1,487.8 1503.9,484.2 1508.6,480.5 1513.4,476.6 1518.1,472.4 1522.9,468.1 1527.6,463.8 1532.4,459.5 1537.1,455.1 1541.9,450.7 1546.7,446.3 1551.4,441.8 1556.2,437.4 1560.9,433.0 1565.7,428.6 1570.4,424.1 1575.2,419.7 1579.9,415.3 1584.7,410.9 1589.5,406.5 1594.2,402.1 1599.0,397.7 1603.7,393.4 1608.5,389.1 1613.2,384.9 1618.0,380.8 1622.7,376.6 1627.5,372.5 1632.3,368.3 1637.0,364.1 1641.8,360.0 1646.5,355.8 1651.3,351.5 1656.0,347.3 1660.8,343.0 1665.5,338.8 1670.3,334.5 1675.1,330.2 1679.8,325.9 1684.6,321.6 1689.3,317.3 1694.1,313.0 1698.8,308.6 1703.6,304.5 1708.3,300.3 1713.1,296.1 1717.9,291.9 1722.6,287.7 1727.4,283.5 1732.1,279.3 1736.9,275.1 1741.6,270.9 1746.4,266.8 1751.1,262.8 1755.9,258.7 1760.7,254.7 1765.4,250.7 1770.2,246.7 1774.9,242.6 1779.7,238.6 1784.4,234.6 1789.2,230.5 1793.9,226.5 1798.7,222.2 1803.5,217.9 1808.2,213.5 1813.0,209.2 1817.7,204.8 1822.5,200.5 1827.2,196.1 1832.0,191.8 1836.7,187.4 1841.5,183.1 1841.5,202.9 1836.7,207.4 1832.0,212.0 1827.2,216.5 1822.5,221.0 1817.7,225.5 1813.0,230.0 1808.2,234.5 1803.5,239.0 1798.7,243.5 1793.9,247.9 1789.2,252.3 1784.4,256.7 1779.7,261.0 1774.9,265.4 1770.2,269.9 1765.4,274.3 1760.7,278.6 1755.9,283.0 1751.1,287.4 1746.4,291.8 1741.6,296.2 1736.9,300.6 1732.1,305.0 1727.4,309.5 1722.6,313.9 1717.9,318.4 1713.1,322.8 1708.3,327.3 1703.6,331.8 1698.8,336.2 1694.1,340.6 1689.3,345.0 1684.6,349.4 1679.8,353.7 1675.1,357.9 1670.3,362.2 1665.5,366.4 1660.8,370.6 1656.0,374.8 1651.3,379.0 1646.5,383.0 1641.8,387.0 1637.0,390.9 1632.3,394.7 1627.5,398.6 1622.7,402.4 1618.0,406.2 1613.2,410.0 1608.5,413.8 1603.7,417.6 1599.0,421.7 1594.2,425.7 1589.5,429.8 1584.7,433.8 1579.9,437.8 1575.2,441.9 1570.4,445.9 1565.7,449.9 1560.9,453.9 1556.2,457.9 1551.4,461.9 1546.7,465.9 1541.9,469.9 1537.1,473.9 1532.4,477.8 1527.6,481.9 1522.9,485.9 1518.1,489.9 1513.4,493.8 1508.6,497.6 1503.9,501.2 1499.1,504.8 1494.3,508.2 1489.6,511.5 1484.8,514.6 1480.1,517.8 1475.3,520.8 1470.6,523.7 1465.8,526.5 1461.1,529.1 1456.3,532.0 1451.5,534.6 1446.8,537.0 1442.0,539.1 1437.3,540.9 1432.5,541.9 1427.8,542.5 1423.0,542.7 1418.3,542.8 1413.5,543.0" fill="#6e8a7e" stroke="#6e8a7e" stroke-width="0.6"/>
<polygon points="1413.5,543.0 1418.3,542.8 1423.0,542.7 1427.8,542.5 1432.5,541.9 1437.3,540.9 1442.0,539.1 1446.8,537.0 1451.5,534.6 1456.3,532.0 1461.1,529.1 1465.8,526.5 1470.6,523.7 1475.3,520.8 1480.1,517.8 1484.8,514.6 1489.6,511.5 1494.3,508.2 1499.1,504.8 1503.9,501.2 1508.6,497.6 1513.4,493.8 1518.1,489.9 1522.9,485.9 1527.6,481.9 1532.4,477.8 1537.1,473.9 1541.9,469.9 1546.7,465.9 1551.4,461.9 1556.2,457.9 1560.9,453.9 1565.7,449.9 1570.4,445.9 1575.2,441.9 1579.9,437.8 1584.7,433.8 1589.5,429.8 1594.2,425.7 1599.0,421.7 1603.7,417.6 1608.5,413.8 1613.2,410.0 1618.0,406.2 1622.7,402.4 1627.5,398.6 1632.3,394.7 1637.0,390.9 1641.8,387.0 1646.5,383.0 1651.3,379.0 1656.0,374.8 1660.8,370.6 1665.5,366.4 1670.3,362.2 1675.1,357.9 1679.8,353.7 1684.6,349.4 1689.3,345.0 1694.1,340.6 1698.8,336.2 1703.6,331.8 1708.3,327.3 1713.1,322.8 1717.9,318.4 1722.6,313.9 1727.4,309.5 1732.1,305.0 1736.9,300.6 1741.6,296.2 1746.4,291.8 1751.1,287.4 1755.9,283.0 1760.7,278.6 1765.4,274.3 1770.2,269.9 1774.9,265.4 1779.7,261.0 1784.4,256.7 1789.2,252.3 1793.9,247.9 1798.7,243.5 1803.5,239.0 1808.2,234.5 1813.0,230.0 1817.7,225.5 1822.5,221.0 1827.2,216.5 1832.0,212.0 1836.7,207.4 1841.5,202.9 1841.5,206.0 1836.7,210.6 1832.0,215.2 1827.2,219.8 1822.5,224.4 1817.7,229.1 1813.0,233.7 1808.2,238.3 1803.5,242.9 1798.7,247.4 1793.9,252.0 1789.2,256.6 1784.4,261.2 1779.7,265.8 1774.9,270.4 1770.2,275.0 1765.4,279.6 1760.7,284.2 1755.9,288.8 1751.1,293.4 1746.4,298.0 1741.6,302.6 1736.9,307.1 1732.1,311.7 1727.4,316.3 1722.6,320.9 1717.9,325.6 1713.1,330.2 1708.3,334.8 1703.6,339.4 1698.8,344.0 1694.1,348.6 1689.3,353.1 1684.6,357.6 1679.8,362.0 1675.1,366.4 1670.3,370.8 1665.5,375.1 1660.8,379.4 1656.0,383.7 1651.3,388.0 1646.5,392.2 1641.8,396.3 1637.0,400.4 1632.3,404.4 1627.5,408.4 1622.7,412.3 1618.0,416.2 1613.2,420.1 1608.5,424.1 1603.7,428.0 1599.0,432.0 1594.2,435.9 1589.5,439.8 1584.7,443.7 1579.9,447.6 1575.2,451.5 1570.4,455.4 1565.7,459.3 1560.9,463.1 1556.2,467.0 1551.4,470.8 1546.7,474.6 1541.9,478.4 1537.1,482.2 1532.4,486.0 1527.6,489.9 1522.9,493.8 1518.1,497.6 1513.4,501.4 1508.6,505.0 1503.9,508.4 1499.1,511.8 1494.3,515.0 1489.6,518.1 1484.8,521.0 1480.1,523.8 1475.3,526.6 1470.6,529.2 1465.8,531.7 1461.1,534.0 1456.3,536.1 1451.5,537.9 1446.8,539.5 1442.0,540.9 1437.3,542.0 1432.5,542.7 1427.8,543.0 1423.0,543.0 1418.3,542.9 1413.5,543.0" fill="#2a80d2" stroke="#2a80d2" stroke-width="0.6"/>
</g>
<rect x="1413.5" y="54.1" width="428.0" height="488.9" fill="none" stroke="#6d6d6d" stroke-width="2"/>
<line x1="1413.5" y1="543.0" x2="1419.5" y2="543.0" stroke="#333" stroke-width="2" />
<text x="1401.5" y="556.8" font-size="38.5" text-anchor="end" fill="#000" >0</text>
<line x1="1413.5" y1="454.1" x2="1419.5" y2="454.1" stroke="#333" stroke-width="2" />
<text x="1401.5" y="467.9" font-size="38.5" text-anchor="end" fill="#000" >50</text>
<line x1="1413.5" y1="365.2" x2="1419.5" y2="365.2" stroke="#333" stroke-width="2" />
<text x="1401.5" y="379.0" font-size="38.5" text-anchor="end" fill="#000" >100</text>
<line x1="1413.5" y1="276.3" x2="1419.5" y2="276.3" stroke="#333" stroke-width="2" />
<text x="1401.5" y="290.1" font-size="38.5" text-anchor="end" fill="#000" >150</text>
<line x1="1413.5" y1="187.4" x2="1419.5" y2="187.4" stroke="#333" stroke-width="2" />
<text x="1401.5" y="201.2" font-size="38.5" text-anchor="end" fill="#000" >200</text>
<line x1="1413.5" y1="98.5" x2="1419.5" y2="98.5" stroke="#333" stroke-width="2" />
<text x="1401.5" y="112.3" font-size="38.5" text-anchor="end" fill="#000" >250</text>
<line x1="1413.5" y1="498.6" x2="1417.0" y2="498.6" stroke="#333" stroke-width="1.5" />
<line x1="1413.5" y1="409.6" x2="1417.0" y2="409.6" stroke="#333" stroke-width="1.5" />
<line x1="1413.5" y1="320.8" x2="1417.0" y2="320.8" stroke="#333" stroke-width="1.5" />
<line x1="1413.5" y1="231.9" x2="1417.0" y2="231.9" stroke="#333" stroke-width="1.5" />
<line x1="1413.5" y1="142.9" x2="1417.0" y2="142.9" stroke="#333" stroke-width="1.5" />
<line x1="1413.5" y1="543.0" x2="1413.5" y2="537.0" stroke="#333" stroke-width="2" />
<text x="1413.5" y="586.0" font-size="38.5" text-anchor="middle" fill="#000" >0</text>
<line x1="1508.6" y1="543.0" x2="1508.6" y2="537.0" stroke="#333" stroke-width="2" />
<text x="1508.6" y="586.0" font-size="38.5" text-anchor="middle" fill="#000" >400</text>
<line x1="1603.7" y1="543.0" x2="1603.7" y2="537.0" stroke="#333" stroke-width="2" />
<text x="1603.7" y="586.0" font-size="38.5" text-anchor="middle" fill="#000" >800</text>
<line x1="1698.8" y1="543.0" x2="1698.8" y2="537.0" stroke="#333" stroke-width="2" />
<text x="1698.8" y="586.0" font-size="38.5" text-anchor="middle" fill="#000" >1200</text>
<line x1="1793.9" y1="543.0" x2="1793.9" y2="537.0" stroke="#333" stroke-width="2" />
<text x="1793.9" y="586.0" font-size="38.5" text-anchor="middle" fill="#000" >1600</text>
<line x1="1461.1" y1="543.0" x2="1461.1" y2="539.5" stroke="#333" stroke-width="1.5" />
<line x1="1556.2" y1="543.0" x2="1556.2" y2="539.5" stroke="#333" stroke-width="1.5" />
<line x1="1651.3" y1="543.0" x2="1651.3" y2="539.5" stroke="#333" stroke-width="1.5" />
<line x1="1746.4" y1="543.0" x2="1746.4" y2="539.5" stroke="#333" stroke-width="1.5" />
<line x1="1841.5" y1="543.0" x2="1841.5" y2="539.5" stroke="#333" stroke-width="1.5" />
<text x="1626.0" y="625.0" font-size="38" text-anchor="middle" fill="#000" >t (s)</text>
<text x="0" y="0" font-size="38" text-anchor="middle" transform="translate(1317.0,297.0) rotate(-90)">Water loss (mg)</text>
<line x1="1432.0" y1="80.8" x2="1522.0" y2="80.8" stroke="#1d5f9f" stroke-width="1.5" />
<rect x="1470.6" y="73.8" width="14.0" height="14.0" fill="#1d5f9f" />
<text x="1525.0" y="95.8" font-size="38" text-anchor="start" fill="#000" >600 mm</text>
<line x1="1432.0" y1="131.3" x2="1522.0" y2="131.3" stroke="#2a7fd0" stroke-width="1.5" />
<circle cx="1477.6" cy="131.3" r="7.0" fill="#2a7fd0"/>
<text x="1525.0" y="146.3" font-size="38" text-anchor="start" fill="#000" >700 mm</text>
<line x1="1432.0" y1="181.8" x2="1522.0" y2="181.8" stroke="#1fb6c8" stroke-width="1.5" />
<polygon points="1477.6,173.8 1485.6,187.8 1469.5,187.8" fill="#1fb6c8" />
<text x="1525.0" y="196.8" font-size="38" text-anchor="start" fill="#000" >800 mm</text>
<line x1="1432.0" y1="232.3" x2="1522.0" y2="232.3" stroke="#1fd6b0" stroke-width="1.5" />
<polygon points="1477.6,240.4 1485.6,226.4 1469.5,226.4" fill="#1fd6b0" />
<text x="1525.0" y="247.3" font-size="38" text-anchor="start" fill="#000" >900 mm</text>
<line x1="1432.0" y1="282.8" x2="1522.0" y2="282.8" stroke="#6c8a7c" stroke-width="1.5" />
<polygon points="1469.5,282.8 1483.5,274.8 1483.5,290.9" fill="#6c8a7c" />
<text x="1525.0" y="297.8" font-size="38" text-anchor="start" fill="#000" >1000 mm</text>
<rect x="1425.7" y="1008.2" width="22.6" height="158.8" fill="#1a5d9e" />
<rect x="1448.3" y="932.5" width="22.6" height="234.5" fill="#6aa5dc" />
<rect x="1470.9" y="825.0" width="22.6" height="342.0" fill="#6a8a7b" />
<line x1="1437.0" y1="1024.5" x2="1437.0" y2="990.3" stroke="#5a6ee0" stroke-width="1.2" />
<line x1="1434.0" y1="990.3" x2="1440.0" y2="990.3" stroke="#5a6ee0" stroke-width="1.2" />
<line x1="1434.0" y1="1024.5" x2="1440.0" y2="1024.5" stroke="#5a6ee0" stroke-width="1.2" />
<line x1="1459.6" y1="947.2" x2="1459.6" y2="916.2" stroke="#5a6ee0" stroke-width="1.2" />
<line x1="1456.6" y1="916.2" x2="1462.6" y2="916.2" stroke="#5a6ee0" stroke-width="1.2" />
<line x1="1456.6" y1="947.2" x2="1462.6" y2="947.2" stroke="#5a6ee0" stroke-width="1.2" />
<line x1="1482.2" y1="828.3" x2="1482.2" y2="821.8" stroke="#5a6ee0" stroke-width="1.2" />
<line x1="1479.2" y1="821.8" x2="1485.2" y2="821.8" stroke="#5a6ee0" stroke-width="1.2" />
<line x1="1479.2" y1="828.3" x2="1485.2" y2="828.3" stroke="#5a6ee0" stroke-width="1.2" />
<rect x="1511.3" y="1012.3" width="22.6" height="154.7" fill="#1a5d9e" />
<rect x="1533.9" y="939.0" width="22.6" height="228.0" fill="#6aa5dc" />
<rect x="1556.5" y="841.3" width="22.6" height="325.7" fill="#6a8a7b" />
<line x1="1522.6" y1="1036.7" x2="1522.6" y2="986.3" stroke="#5a6ee0" stroke-width="1.2" />
<line x1="1519.6" y1="986.3" x2="1525.6" y2="986.3" stroke="#5a6ee0" stroke-width="1.2" />
<line x1="1519.6" y1="1036.7" x2="1525.6" y2="1036.7" stroke="#5a6ee0" stroke-width="1.2" />
<line x1="1545.2" y1="977.3" x2="1545.2" y2="898.3" stroke="#5a6ee0" stroke-width="1.2" />
<line x1="1542.2" y1="898.3" x2="1548.2" y2="898.3" stroke="#5a6ee0" stroke-width="1.2" />
<line x1="1542.2" y1="977.3" x2="1548.2" y2="977.3" stroke="#5a6ee0" stroke-width="1.2" />
<line x1="1567.8" y1="868.2" x2="1567.8" y2="815.3" stroke="#5a6ee0" stroke-width="1.2" />
<line x1="1564.8" y1="815.3" x2="1570.8" y2="815.3" stroke="#5a6ee0" stroke-width="1.2" />
<line x1="1564.8" y1="868.2" x2="1570.8" y2="868.2" stroke="#5a6ee0" stroke-width="1.2" />
<rect x="1596.9" y="1016.4" width="22.6" height="150.6" fill="#1a5d9e" />
<rect x="1619.5" y="955.3" width="22.6" height="211.7" fill="#6aa5dc" />
<rect x="1642.1" y="843.0" width="22.6" height="324.0" fill="#6a8a7b" />
<line x1="1608.2" y1="1046.5" x2="1608.2" y2="987.1" stroke="#5a6ee0" stroke-width="1.2" />
<line x1="1605.2" y1="987.1" x2="1611.2" y2="987.1" stroke="#5a6ee0" stroke-width="1.2" />
<line x1="1605.2" y1="1046.5" x2="1611.2" y2="1046.5" stroke="#5a6ee0" stroke-width="1.2" />
<line x1="1630.8" y1="956.9" x2="1630.8" y2="952.1" stroke="#5a6ee0" stroke-width="1.2" />
<line x1="1627.8" y1="952.1" x2="1633.8" y2="952.1" stroke="#5a6ee0" stroke-width="1.2" />
<line x1="1627.8" y1="956.9" x2="1633.8" y2="956.9" stroke="#5a6ee0" stroke-width="1.2" />
<line x1="1653.4" y1="864.1" x2="1653.4" y2="821.0" stroke="#5a6ee0" stroke-width="1.2" />
<line x1="1650.4" y1="821.0" x2="1656.4" y2="821.0" stroke="#5a6ee0" stroke-width="1.2" />
<line x1="1650.4" y1="864.1" x2="1656.4" y2="864.1" stroke="#5a6ee0" stroke-width="1.2" />
<rect x="1682.5" y="996.0" width="22.6" height="171.0" fill="#1a5d9e" />
<rect x="1705.1" y="933.3" width="22.6" height="233.7" fill="#6aa5dc" />
<rect x="1727.7" y="792.5" width="22.6" height="374.5" fill="#6a8a7b" />
<line x1="1693.8" y1="1028.6" x2="1693.8" y2="956.9" stroke="#5a6ee0" stroke-width="1.2" />
<line x1="1690.8" y1="956.9" x2="1696.8" y2="956.9" stroke="#5a6ee0" stroke-width="1.2" />
<line x1="1690.8" y1="1028.6" x2="1696.8" y2="1028.6" stroke="#5a6ee0" stroke-width="1.2" />
<line x1="1716.4" y1="935.8" x2="1716.4" y2="930.1" stroke="#5a6ee0" stroke-width="1.2" />
<line x1="1713.4" y1="930.1" x2="1719.4" y2="930.1" stroke="#5a6ee0" stroke-width="1.2" />
<line x1="1713.4" y1="935.8" x2="1719.4" y2="935.8" stroke="#5a6ee0" stroke-width="1.2" />
<line x1="1739.0" y1="827.5" x2="1739.0" y2="758.3" stroke="#5a6ee0" stroke-width="1.2" />
<line x1="1736.0" y1="758.3" x2="1742.0" y2="758.3" stroke="#5a6ee0" stroke-width="1.2" />
<line x1="1736.0" y1="827.5" x2="1742.0" y2="827.5" stroke="#5a6ee0" stroke-width="1.2" />
<rect x="1768.1" y="1040.8" width="22.6" height="126.2" fill="#1a5d9e" />
<rect x="1790.7" y="951.2" width="22.6" height="215.8" fill="#6aa5dc" />
<rect x="1813.3" y="818.5" width="22.6" height="348.5" fill="#6a8a7b" />
<line x1="1779.4" y1="1043.2" x2="1779.4" y2="1037.5" stroke="#5a6ee0" stroke-width="1.2" />
<line x1="1776.4" y1="1037.5" x2="1782.4" y2="1037.5" stroke="#5a6ee0" stroke-width="1.2" />
<line x1="1776.4" y1="1043.2" x2="1782.4" y2="1043.2" stroke="#5a6ee0" stroke-width="1.2" />
<line x1="1802.0" y1="963.5" x2="1802.0" y2="937.4" stroke="#5a6ee0" stroke-width="1.2" />
<line x1="1799.0" y1="937.4" x2="1805.0" y2="937.4" stroke="#5a6ee0" stroke-width="1.2" />
<line x1="1799.0" y1="963.5" x2="1805.0" y2="963.5" stroke="#5a6ee0" stroke-width="1.2" />
<line x1="1824.6" y1="861.7" x2="1824.6" y2="774.6" stroke="#5a6ee0" stroke-width="1.2" />
<line x1="1821.6" y1="774.6" x2="1827.6" y2="774.6" stroke="#5a6ee0" stroke-width="1.2" />
<line x1="1821.6" y1="861.7" x2="1827.6" y2="861.7" stroke="#5a6ee0" stroke-width="1.2" />
<rect x="1417.5" y="678.5" width="426.3" height="488.5" fill="none" stroke="#6d6d6d" stroke-width="2"/>
<line x1="1417.5" y1="1167.0" x2="1423.5" y2="1167.0" stroke="#333" stroke-width="2" />
<text x="1401.0" y="1180.8" font-size="38.5" text-anchor="end" fill="#000" >0</text>
<line x1="1417.5" y1="1085.6" x2="1423.5" y2="1085.6" stroke="#333" stroke-width="2" />
<text x="1401.0" y="1099.4" font-size="38.5" text-anchor="end" fill="#000" >100</text>
<line x1="1417.5" y1="1004.2" x2="1423.5" y2="1004.2" stroke="#333" stroke-width="2" />
<text x="1401.0" y="1018.0" font-size="38.5" text-anchor="end" fill="#000" >200</text>
<line x1="1417.5" y1="922.8" x2="1423.5" y2="922.8" stroke="#333" stroke-width="2" />
<text x="1401.0" y="936.5" font-size="38.5" text-anchor="end" fill="#000" >300</text>
<line x1="1417.5" y1="841.3" x2="1423.5" y2="841.3" stroke="#333" stroke-width="2" />
<text x="1401.0" y="855.1" font-size="38.5" text-anchor="end" fill="#000" >400</text>
<line x1="1417.5" y1="759.9" x2="1423.5" y2="759.9" stroke="#333" stroke-width="2" />
<text x="1401.0" y="773.7" font-size="38.5" text-anchor="end" fill="#000" >500</text>
<line x1="1417.5" y1="678.5" x2="1423.5" y2="678.5" stroke="#333" stroke-width="2" />
<text x="1401.0" y="692.3" font-size="38.5" text-anchor="end" fill="#000" >600</text>
<line x1="1417.5" y1="1126.3" x2="1421.0" y2="1126.3" stroke="#333" stroke-width="1.5" />
<line x1="1417.5" y1="1044.9" x2="1421.0" y2="1044.9" stroke="#333" stroke-width="1.5" />
<line x1="1417.5" y1="963.5" x2="1421.0" y2="963.5" stroke="#333" stroke-width="1.5" />
<line x1="1417.5" y1="882.0" x2="1421.0" y2="882.0" stroke="#333" stroke-width="1.5" />
<line x1="1417.5" y1="800.6" x2="1421.0" y2="800.6" stroke="#333" stroke-width="1.5" />
<line x1="1417.5" y1="719.2" x2="1421.0" y2="719.2" stroke="#333" stroke-width="1.5" />
<line x1="1459.6" y1="1167.0" x2="1459.6" y2="1161.0" stroke="#333" stroke-width="2" />
<line x1="1545.2" y1="1167.0" x2="1545.2" y2="1161.0" stroke="#333" stroke-width="2" />
<line x1="1630.8" y1="1167.0" x2="1630.8" y2="1161.0" stroke="#333" stroke-width="2" />
<line x1="1716.4" y1="1167.0" x2="1716.4" y2="1161.0" stroke="#333" stroke-width="2" />
<line x1="1802.0" y1="1167.0" x2="1802.0" y2="1161.0" stroke="#333" stroke-width="2" />
<text x="1459.6" y="1208.0" font-size="38" text-anchor="middle" fill="#000" >600</text>
<text x="1545.2" y="1208.0" font-size="38" text-anchor="middle" fill="#000" >700</text>
<text x="1630.8" y="1208.0" font-size="38" text-anchor="middle" fill="#000" >800</text>
<text x="1716.4" y="1208.0" font-size="38" text-anchor="middle" fill="#000" >900</text>
<text x="1802.0" y="1208.0" font-size="38" text-anchor="middle" fill="#000" >1000</text>
<text x="1627.0" y="1246.5" font-size="38" text-anchor="middle" fill="#000" >D (mm)</text>
<text x="0" y="0" font-size="38" text-anchor="middle" transform="translate(1317.0,926.0) rotate(-90)">Water loss (mg h<tspan font-size="21" dy="-13">&#8722;1</tspan><tspan dy="13">)</tspan></text>
<rect x="1420.0" y="681.2" width="83.0" height="39.8" fill="#1a5d9e" rx="1.5"/>
<text x="1514.0" y="713.3" font-size="33.5" text-anchor="start" fill="#000" >17.68 w/cm<tspan font-size="20" dy="-12" dx="1">&#8722;2</tspan></text>
<rect x="1420.0" y="733.1" width="83.0" height="40.4" fill="#6aa5dc" rx="1.5"/>
<text x="1514.0" y="764.8" font-size="33.5" text-anchor="start" fill="#000" >35.36 w/cm<tspan font-size="20" dy="-12" dx="1">&#8722;2</tspan></text>
<rect x="1420.0" y="784.5" width="83.0" height="42.1" fill="#6a8a7b" rx="1.5"/>
<text x="1514.0" y="816.2" font-size="33.5" text-anchor="start" fill="#000" >53.04 w/cm<tspan font-size="20" dy="-12" dx="1">&#8722;2</tspan></text>
<clipPath id="clipe"><rect x="1423.6" y="1336.7" width="424.4000000000001" height="486.20000000000005"/></clipPath>
<g clip-path="url(#clipe)">
<polyline points="1445.0,1822.9 1449.7,1820.1 1454.5,1817.2 1459.2,1814.4 1464.0,1811.5 1468.7,1808.6 1473.5,1805.7 1478.2,1802.8 1483.0,1799.9 1487.7,1797.0 1492.5,1794.2 1497.2,1791.3 1502.0,1788.4 1506.7,1785.6 1511.5,1782.8 1516.2,1780.0 1521.0,1777.2 1525.7,1774.5 1530.5,1771.8 1535.2,1769.2 1540.0,1766.6 1544.7,1764.1 1549.5,1761.6 1554.2,1759.1 1559.0,1756.7 1563.7,1754.3 1568.5,1751.9 1573.2,1749.6 1578.0,1747.3 1582.7,1745.0 1587.5,1742.7 1592.2,1740.5 1597.0,1738.2 1601.7,1736.0 1606.5,1733.7 1611.2,1731.5 1616.0,1729.3 1620.7,1727.1 1625.5,1724.9 1630.2,1722.6 1635.0,1720.4 1639.7,1718.1 1644.5,1715.9 1649.2,1713.6 1654.0,1711.3 1658.7,1709.0 1663.5,1706.6 1668.2,1704.3 1673.0,1701.9 1677.7,1699.5 1682.5,1697.1 1687.2,1694.7 1692.0,1692.3 1696.7,1689.9 1701.5,1687.5 1706.2,1685.1 1711.0,1682.7 1715.7,1680.3 1720.5,1677.9 1725.2,1675.5 1730.0,1673.0 1734.7,1670.6 1739.5,1668.2 1744.2,1665.8 1749.0,1663.4 1753.7,1661.0 1758.5,1658.6 1763.2,1656.3 1768.0,1653.9 1772.7,1651.5 1777.5,1649.2 1782.2,1646.9 1787.0,1644.5 1791.7,1642.2 1796.5,1639.9 1801.2,1637.6 1806.0,1635.4 1810.7,1633.1 1815.5,1630.8 1820.2,1628.5 1825.0,1626.2 1829.7,1624.0 1834.5,1621.7 1839.2,1619.4 1844.0,1617.1 1848.7,1614.9 1851.1,1613.7" fill="none" stroke="#1d5fa0" stroke-width="12" stroke-linejoin="round" stroke-linecap="round" stroke-linecap="butt"/>
<polyline points="1445.0,1822.9 1449.7,1819.9 1454.5,1816.8 1459.2,1813.8 1464.0,1810.7 1468.7,1807.7 1473.5,1804.6 1478.2,1801.6 1483.0,1798.5 1487.7,1795.5 1492.5,1792.4 1497.2,1789.4 1502.0,1786.3 1506.7,1783.3 1511.5,1780.3 1516.2,1777.3 1521.0,1774.3 1525.7,1771.3 1530.5,1768.3 1535.2,1765.3 1540.0,1762.4 1544.7,1759.5 1549.5,1756.6 1554.2,1753.7 1559.0,1750.9 1563.7,1748.0 1568.5,1745.3 1573.2,1742.5 1578.0,1739.7 1582.7,1737.0 1587.5,1734.2 1592.2,1731.5 1597.0,1728.7 1601.7,1726.0 1606.5,1723.2 1611.2,1720.5 1616.0,1717.7 1620.7,1714.9 1625.5,1712.1 1630.2,1709.3 1635.0,1706.4 1639.7,1703.5 1644.5,1700.6 1649.2,1697.6 1654.0,1694.7 1658.7,1691.6 1663.5,1688.6 1668.2,1685.5 1673.0,1682.4 1677.7,1679.2 1682.5,1676.1 1687.2,1673.0 1692.0,1669.8 1696.7,1666.6 1701.5,1663.4 1706.2,1660.2 1711.0,1656.9 1715.7,1653.6 1720.5,1650.3 1725.2,1647.0 1730.0,1643.6 1734.7,1640.2 1739.5,1636.8 1744.2,1633.3 1749.0,1629.8 1753.7,1626.2 1758.5,1622.6 1763.2,1619.0 1768.0,1615.3 1772.7,1611.6 1777.5,1607.9 1782.2,1604.1 1787.0,1600.1 1791.7,1596.1 1796.5,1592.0 1801.2,1587.8 1806.0,1583.5 1810.7,1579.2 1815.5,1574.8 1820.2,1570.4 1825.0,1565.9 1829.7,1561.5 1834.5,1557.1 1839.2,1552.6 1844.0,1548.3 1848.7,1543.9 1851.1,1541.8" fill="none" stroke="#2a78c8" stroke-width="12" stroke-linejoin="round" stroke-linecap="round" stroke-linecap="butt"/>
<polyline points="1423.6,1816.3 1428.3,1812.4 1433.1,1808.6 1437.8,1804.8 1442.6,1801.0 1447.3,1797.2 1452.1,1793.4 1456.8,1789.7 1461.6,1785.9 1466.3,1782.1 1471.1,1778.3 1475.8,1774.5 1480.6,1770.7 1485.3,1766.8 1490.1,1763.0 1494.8,1759.1 1499.6,1755.1 1504.3,1751.1 1509.1,1747.1 1513.8,1742.9 1518.6,1738.8 1523.3,1734.6 1528.1,1730.3 1532.8,1726.0 1537.6,1721.7 1542.3,1717.3 1547.1,1712.8 1551.8,1708.4 1556.6,1703.9 1561.3,1699.4 1566.1,1694.8 1570.8,1690.2 1575.6,1685.6 1580.3,1680.9 1585.1,1676.3 1589.8,1671.6 1594.6,1666.9 1599.3,1662.1 1604.1,1657.4 1608.8,1652.6 1613.6,1647.8 1618.3,1643.0 1623.1,1638.2 1627.8,1633.4 1632.6,1628.5 1637.3,1623.7 1642.1,1618.8 1646.8,1613.9 1651.6,1609.0 1656.3,1604.0 1661.1,1598.9 1665.8,1593.9 1670.6,1588.8 1675.3,1583.7 1680.1,1578.6 1684.8,1573.4 1689.6,1568.3 1694.3,1563.1 1699.1,1558.0 1703.8,1552.8 1708.6,1547.6 1713.3,1542.4 1718.1,1537.3 1722.8,1532.1 1727.6,1527.0 1732.3,1521.9 1737.1,1516.7 1741.8,1511.6 1746.6,1506.5 1751.3,1501.4 1756.1,1496.3 1760.8,1491.1 1765.6,1486.0 1770.3,1480.9 1775.1,1475.7 1779.8,1470.6 1784.6,1465.5 1789.3,1460.3 1794.1,1455.2 1798.8,1450.0 1803.6,1444.9 1808.3,1439.7 1813.1,1434.6 1817.8,1429.5 1822.6,1424.3 1827.3,1419.2 1832.1,1414.0 1836.8,1408.9 1841.6,1403.8 1846.3,1398.6 1851.1,1393.5" fill="none" stroke="#18c4d6" stroke-width="12" stroke-linejoin="round" stroke-linecap="round" stroke-linecap="butt"/>
<polyline points="1423.6,1811.8 1428.3,1808.7 1433.1,1805.5 1437.8,1802.3 1442.6,1799.1 1447.3,1795.8 1452.1,1792.7 1456.8,1789.6 1461.6,1786.5 1466.3,1783.6 1471.1,1780.8 1475.8,1778.2 1480.6,1775.6 1485.3,1773.1 1490.1,1770.6 1494.8,1768.2 1499.6,1765.8 1504.3,1763.5 1509.1,1761.2 1513.8,1758.9 1518.6,1756.7 1523.3,1754.5 1528.1,1752.2 1532.8,1750.0 1537.6,1747.7 1542.3,1745.4 1547.1,1743.1 1551.8,1740.9 1556.6,1738.6 1561.3,1736.4 1566.1,1734.2 1570.8,1732.0 1575.6,1729.8 1580.3,1727.7 1585.1,1725.5 1589.8,1723.3 1594.6,1721.2 1599.3,1719.0 1604.1,1716.8 1608.8,1714.7 1613.6,1712.5 1618.3,1710.3 1623.1,1708.1 1627.8,1705.9 1632.6,1703.7 1637.3,1701.5 1642.1,1699.3 1646.8,1697.0 1651.6,1694.7 1656.3,1692.4 1661.1,1690.1 1665.8,1687.7 1670.6,1685.3 1675.3,1682.9 1680.1,1680.4 1684.8,1677.8 1689.6,1675.3 1694.3,1672.7 1699.1,1670.1 1703.8,1667.5 1708.6,1664.9 1713.3,1662.2 1718.1,1659.6 1722.8,1657.0 1727.6,1654.4 1732.3,1651.8 1737.1,1649.3 1741.8,1646.7 1746.6,1644.3 1751.3,1641.8 1756.1,1639.4 1760.8,1637.0 1765.6,1634.7 1770.3,1632.4 1775.1,1630.2 1779.8,1628.1 1784.6,1626.1 1789.3,1624.1 1794.1,1622.1 1798.8,1620.2 1803.6,1618.3 1808.3,1616.5 1813.1,1614.7 1817.8,1612.9 1822.6,1611.2 1827.3,1609.4 1832.1,1607.6 1836.8,1605.9 1841.6,1604.1 1846.3,1602.3 1851.1,1600.4" fill="none" stroke="#1fdcb8" stroke-width="15" stroke-linejoin="round" stroke-linecap="round" stroke-linecap="butt"/>
<polyline points="1445.0,1822.9 1449.7,1819.4 1454.5,1816.0 1459.2,1812.5 1464.0,1809.0 1468.7,1805.5 1473.5,1802.0 1478.2,1798.5 1483.0,1795.0 1487.7,1791.5 1492.5,1788.0 1497.2,1784.5 1502.0,1781.0 1506.7,1777.6 1511.5,1774.1 1516.2,1770.7 1521.0,1767.2 1525.7,1763.8 1530.5,1760.4 1535.2,1757.1 1540.0,1753.7 1544.7,1750.4 1549.5,1747.1 1554.2,1743.9 1559.0,1740.6 1563.7,1737.4 1568.5,1734.2 1573.2,1731.0 1578.0,1727.8 1582.7,1724.7 1587.5,1721.5 1592.2,1718.4 1597.0,1715.3 1601.7,1712.1 1606.5,1709.0 1611.2,1705.9 1616.0,1702.8 1620.7,1699.6 1625.5,1696.5 1630.2,1693.3 1635.0,1690.1 1639.7,1687.0 1644.5,1683.8 1649.2,1680.5 1654.0,1677.3 1658.7,1674.0 1663.5,1670.7 1668.2,1667.5 1673.0,1664.2 1677.7,1660.9 1682.5,1657.7 1687.2,1654.4 1692.0,1651.2 1696.7,1647.9 1701.5,1644.6 1706.2,1641.4 1711.0,1638.1 1715.7,1634.8 1720.5,1631.4 1725.2,1628.1 1730.0,1624.7 1734.7,1621.3 1739.5,1617.9 1744.2,1614.5 1749.0,1611.0 1753.7,1607.4 1758.5,1603.9 1763.2,1600.2 1768.0,1596.6 1772.7,1592.8 1777.5,1589.1 1782.2,1585.2 1787.0,1581.3 1791.7,1577.2 1796.5,1573.1 1801.2,1568.9 1806.0,1564.6 1810.7,1560.3 1815.5,1555.9 1820.2,1551.5 1825.0,1547.1 1829.7,1542.7 1834.5,1538.2 1839.2,1533.8 1844.0,1529.5 1848.7,1525.1 1851.1,1523.0" fill="none" stroke="#1d6a1c" stroke-width="16" stroke-linejoin="round" stroke-linecap="round" stroke-linecap="butt"/>
<polyline points="1423.6,1820.7 1428.3,1816.9 1433.1,1813.2 1437.8,1809.5 1442.6,1805.9 1447.3,1802.2 1452.1,1798.6 1456.8,1794.9 1461.6,1791.2 1466.3,1787.5 1471.1,1783.7 1475.8,1780.0 1480.6,1776.1 1485.3,1772.2 1490.1,1768.3 1494.8,1764.2 1499.6,1760.1 1504.3,1756.0 1509.1,1751.8 1513.8,1747.5 1518.6,1743.2 1523.3,1738.9 1528.1,1734.5 1532.8,1730.1 1537.6,1725.6 1542.3,1721.2 1547.1,1716.6 1551.8,1712.1 1556.6,1707.5 1561.3,1702.8 1566.1,1698.2 1570.8,1693.5 1575.6,1688.8 1580.3,1684.1 1585.1,1679.4 1589.8,1674.6 1594.6,1669.8 1599.3,1665.0 1604.1,1660.1 1608.8,1655.3 1613.6,1650.3 1618.3,1645.4 1623.1,1640.4 1627.8,1635.4 1632.6,1630.4 1637.3,1625.3 1642.1,1620.2 1646.8,1615.0 1651.6,1609.8 1656.3,1604.6 1661.1,1599.4 1665.8,1594.1 1670.6,1588.8 1675.3,1583.5 1680.1,1578.2 1684.8,1572.8 1689.6,1567.3 1694.3,1561.8 1699.1,1556.2 1703.8,1550.6 1708.6,1544.8 1713.3,1539.1 1718.1,1533.3 1722.8,1527.4 1727.6,1521.6 1732.3,1515.7 1737.1,1509.8 1741.8,1503.9 1746.6,1498.1 1751.3,1492.2 1756.1,1486.3 1760.8,1480.5 1765.6,1474.7 1770.3,1469.0 1775.1,1463.3 1779.8,1457.7 1784.6,1452.1 1789.3,1446.5 1794.1,1441.0 1798.8,1435.5 1803.6,1430.1 1808.3,1424.6 1813.1,1419.2 1817.8,1413.8 1822.6,1408.3 1827.3,1402.9 1832.1,1397.5 1836.8,1392.1 1841.6,1386.7 1846.3,1381.2 1851.1,1375.8" fill="none" stroke="#6f8a80" stroke-width="15" stroke-linejoin="round" stroke-linecap="round" stroke-linecap="butt"/>
</g>
<rect x="1423.6" y="1336.7" width="424.4" height="486.2" fill="none" stroke="#6d6d6d" stroke-width="2"/>
<line x1="1423.6" y1="1822.9" x2="1429.6" y2="1822.9" stroke="#333" stroke-width="2" />
<text x="1410.5" y="1836.7" font-size="38.5" text-anchor="end" fill="#000" >0</text>
<line x1="1423.6" y1="1734.4" x2="1429.6" y2="1734.4" stroke="#333" stroke-width="2" />
<text x="1410.5" y="1748.2" font-size="38.5" text-anchor="end" fill="#000" >40</text>
<line x1="1423.6" y1="1645.8" x2="1429.6" y2="1645.8" stroke="#333" stroke-width="2" />
<text x="1410.5" y="1659.6" font-size="38.5" text-anchor="end" fill="#000" >80</text>
<line x1="1423.6" y1="1557.3" x2="1429.6" y2="1557.3" stroke="#333" stroke-width="2" />
<text x="1410.5" y="1571.1" font-size="38.5" text-anchor="end" fill="#000" >120</text>
<line x1="1423.6" y1="1468.7" x2="1429.6" y2="1468.7" stroke="#333" stroke-width="2" />
<text x="1410.5" y="1482.5" font-size="38.5" text-anchor="end" fill="#000" >160</text>
<line x1="1423.6" y1="1380.2" x2="1429.6" y2="1380.2" stroke="#333" stroke-width="2" />
<text x="1410.5" y="1394.0" font-size="38.5" text-anchor="end" fill="#000" >200</text>
<line x1="1423.6" y1="1778.6" x2="1427.1" y2="1778.6" stroke="#333" stroke-width="1.5" />
<line x1="1423.6" y1="1690.1" x2="1427.1" y2="1690.1" stroke="#333" stroke-width="1.5" />
<line x1="1423.6" y1="1601.6" x2="1427.1" y2="1601.6" stroke="#333" stroke-width="1.5" />
<line x1="1423.6" y1="1513.0" x2="1427.1" y2="1513.0" stroke="#333" stroke-width="1.5" />
<line x1="1423.6" y1="1424.5" x2="1427.1" y2="1424.5" stroke="#333" stroke-width="1.5" />
<line x1="1423.6" y1="1822.9" x2="1423.6" y2="1816.9" stroke="#333" stroke-width="2" />
<text x="1423.6" y="1864.0" font-size="38.5" text-anchor="middle" fill="#000" >0</text>
<line x1="1518.6" y1="1822.9" x2="1518.6" y2="1816.9" stroke="#333" stroke-width="2" />
<text x="1518.6" y="1864.0" font-size="38.5" text-anchor="middle" fill="#000" >400</text>
<line x1="1613.6" y1="1822.9" x2="1613.6" y2="1816.9" stroke="#333" stroke-width="2" />
<text x="1613.6" y="1864.0" font-size="38.5" text-anchor="middle" fill="#000" >800</text>
<line x1="1708.6" y1="1822.9" x2="1708.6" y2="1816.9" stroke="#333" stroke-width="2" />
<text x="1708.6" y="1864.0" font-size="38.5" text-anchor="middle" fill="#000" >1200</text>
<line x1="1803.6" y1="1822.9" x2="1803.6" y2="1816.9" stroke="#333" stroke-width="2" />
<text x="1803.6" y="1864.0" font-size="38.5" text-anchor="middle" fill="#000" >1600</text>
<line x1="1471.1" y1="1822.9" x2="1471.1" y2="1819.4" stroke="#333" stroke-width="1.5" />
<line x1="1566.1" y1="1822.9" x2="1566.1" y2="1819.4" stroke="#333" stroke-width="1.5" />
<line x1="1661.1" y1="1822.9" x2="1661.1" y2="1819.4" stroke="#333" stroke-width="1.5" />
<line x1="1756.1" y1="1822.9" x2="1756.1" y2="1819.4" stroke="#333" stroke-width="1.5" />
<text x="1634.0" y="1903.0" font-size="38" text-anchor="middle" fill="#000" >t (s)</text>
<text x="0" y="0" font-size="38" text-anchor="middle" transform="translate(1325.0,1580.0) rotate(-90)">Water loss (mg)</text>
<line x1="1423.6" y1="1365.7" x2="1497.0" y2="1365.7" stroke="#1d5f9f" stroke-width="1.5" />
<polygon points="1461.0,1358.2 1463.0,1363.0 1468.1,1363.4 1464.2,1366.7 1465.4,1371.8 1461.0,1369.1 1456.6,1371.8 1457.8,1366.7 1453.9,1363.4 1459.0,1363.0" fill="#1d5f9f" />
<text x="1500.0" y="1375.7" font-size="34" text-anchor="start" fill="#000" >17.68 w/cm<tspan font-size="19" dy="-13" dx="1">2</tspan></text>
<line x1="1423.6" y1="1412.5" x2="1497.0" y2="1412.5" stroke="#2a78c8" stroke-width="1.5" />
<polygon points="1461.0,1405.0 1463.0,1409.8 1468.1,1410.2 1464.2,1413.6 1465.4,1418.6 1461.0,1415.9 1456.6,1418.6 1457.8,1413.6 1453.9,1410.2 1459.0,1409.8" fill="#2a78c8" />
<text x="1500.0" y="1422.5" font-size="34" text-anchor="start" fill="#000" >35.36 w/cm<tspan font-size="19" dy="-13" dx="1">2</tspan></text>
<line x1="1423.6" y1="1459.4" x2="1497.0" y2="1459.4" stroke="#1ec8d8" stroke-width="1.5" />
<polygon points="1461.0,1451.9 1463.0,1456.7 1468.1,1457.1 1464.2,1460.4 1465.4,1465.5 1461.0,1462.8 1456.6,1465.5 1457.8,1460.4 1453.9,1457.1 1459.0,1456.7" fill="#1ec8d8" />
<text x="1500.0" y="1469.4" font-size="34" text-anchor="start" fill="#000" >53.04 w/cm<tspan font-size="19" dy="-13" dx="1">2</tspan></text>
<line x1="1423.6" y1="1506.2" x2="1497.0" y2="1506.2" stroke="#20d8b8" stroke-width="1.5" />
<polygon points="1461.0,1498.2 1469.0,1512.2 1453.0,1512.2" fill="#20d8b8" />
<text x="1500.0" y="1516.2" font-size="34" text-anchor="start" fill="#000" >17.68 w/cm<tspan font-size="19" dy="-13" dx="1">2</tspan></text>
<line x1="1423.6" y1="1553.1" x2="1497.0" y2="1553.1" stroke="#1e6a22" stroke-width="1.5" />
<polygon points="1461.0,1545.1 1469.0,1559.1 1453.0,1559.1" fill="#1e6a22" />
<text x="1500.0" y="1563.1" font-size="34" text-anchor="start" fill="#000" >35.36 w/cm<tspan font-size="19" dy="-13" dx="1">2</tspan></text>
<line x1="1423.6" y1="1600.0" x2="1497.0" y2="1600.0" stroke="#6f8a80" stroke-width="1.5" />
<polygon points="1461.0,1591.9 1469.0,1605.9 1453.0,1605.9" fill="#6f8a80" />
<text x="1500.0" y="1610.0" font-size="34" text-anchor="start" fill="#000" >53.04 w/cm<tspan font-size="19" dy="-13" dx="1">2</tspan></text>
<clipPath id="clipc"><rect x="175.6" y="1443.7" width="427.6" height="371.89999999999986"/></clipPath>
<g clip-path="url(#clipc)">
<polygon points="175.6,1805.0 180.4,1803.0 185.1,1801.0 189.9,1799.0 194.6,1797.1 199.4,1795.0 204.1,1792.9 208.9,1790.7 213.6,1788.3 218.4,1785.9 223.1,1783.3 227.9,1780.6 232.6,1777.9 237.4,1775.2 242.1,1772.4 246.9,1769.6 251.6,1766.8 256.4,1764.1 261.1,1761.4 265.9,1758.7 270.6,1756.2 275.4,1753.7 280.1,1751.2 284.9,1748.8 289.6,1746.4 294.4,1744.0 299.1,1741.7 303.9,1739.3 308.6,1737.0 313.4,1734.7 318.1,1732.4 322.9,1730.1 327.6,1727.8 332.4,1725.4 337.1,1723.1 341.9,1720.8 346.6,1718.4 351.4,1716.0 356.1,1713.6 360.9,1711.1 365.6,1708.6 370.4,1706.1 375.1,1703.6 379.9,1701.0 384.6,1698.4 389.4,1695.8 394.2,1693.1 398.9,1690.5 403.7,1687.8 408.4,1685.2 413.2,1682.5 417.9,1679.8 422.7,1677.1 427.4,1674.4 432.2,1671.6 436.9,1668.9 441.7,1666.2 446.4,1663.4 451.2,1660.6 455.9,1657.8 460.7,1655.1 465.4,1652.3 470.2,1649.4 474.9,1646.6 479.7,1643.8 484.4,1641.0 489.2,1638.1 493.9,1635.3 498.7,1632.4 503.4,1629.6 508.2,1626.7 512.9,1623.8 517.7,1621.0 522.4,1618.1 527.2,1615.2 531.9,1612.4 536.7,1609.5 541.4,1606.6 546.2,1603.7 550.9,1600.9 555.7,1598.0 560.4,1595.2 565.2,1592.3 569.9,1589.5 574.7,1586.6 579.4,1583.7 584.2,1580.9 588.9,1578.0 593.7,1575.2 598.4,1572.3 603.2,1569.5 603.2,1586.2 598.4,1588.6 593.7,1590.9 588.9,1593.3 584.2,1595.7 579.4,1598.1 574.7,1600.5 569.9,1602.9 565.2,1605.3 560.4,1607.7 555.7,1610.2 550.9,1612.9 546.2,1615.6 541.4,1618.3 536.7,1621.0 531.9,1623.8 527.2,1626.5 522.4,1629.2 517.7,1631.9 512.9,1634.7 508.2,1637.4 503.4,1640.1 498.7,1642.8 493.9,1645.5 489.2,1648.2 484.4,1650.9 479.7,1653.6 474.9,1656.3 470.2,1659.0 465.4,1661.7 460.7,1664.3 455.9,1666.5 451.2,1668.7 446.4,1671.0 441.7,1673.2 436.9,1675.4 432.2,1677.6 427.4,1679.8 422.7,1682.1 417.9,1684.3 413.2,1686.5 408.4,1688.7 403.7,1690.9 398.9,1693.1 394.2,1695.4 389.4,1697.6 384.6,1699.8 379.9,1702.0 375.1,1704.3 370.4,1706.5 365.6,1708.6 360.9,1711.1 356.1,1713.6 351.4,1716.0 346.6,1718.4 341.9,1720.8 337.1,1723.1 332.4,1725.4 327.6,1727.8 322.9,1730.1 318.1,1732.4 313.4,1734.7 308.6,1737.0 303.9,1739.3 299.1,1741.7 294.4,1744.0 289.6,1746.4 284.9,1748.8 280.1,1751.2 275.4,1753.7 270.6,1756.2 265.9,1758.7 261.1,1761.4 256.4,1764.1 251.6,1766.8 246.9,1769.6 242.1,1772.4 237.4,1775.2 232.6,1777.9 227.9,1780.6 223.1,1783.3 218.4,1785.9 213.6,1788.3 208.9,1790.7 204.1,1792.9 199.4,1795.0 194.6,1797.1 189.9,1799.0 185.1,1801.0 180.4,1803.0 175.6,1805.0" fill="#1d5c9c" stroke="#1d5c9c" stroke-width="0.6"/>
<polygon points="175.6,1805.0 180.4,1803.0 185.1,1801.0 189.9,1799.0 194.6,1797.1 199.4,1795.0 204.1,1792.9 208.9,1790.7 213.6,1788.3 218.4,1785.9 223.1,1783.3 227.9,1780.6 232.6,1777.9 237.4,1775.2 242.1,1772.4 246.9,1769.6 251.6,1766.8 256.4,1764.1 261.1,1761.4 265.9,1758.7 270.6,1756.2 275.4,1753.7 280.1,1751.2 284.9,1748.8 289.6,1746.4 294.4,1744.0 299.1,1741.7 303.9,1739.3 308.6,1737.0 313.4,1734.7 318.1,1732.4 322.9,1730.1 327.6,1727.8 332.4,1725.4 337.1,1723.1 341.9,1720.8 346.6,1718.4 351.4,1716.0 356.1,1713.6 360.9,1711.1 365.6,1708.6 370.4,1706.5 375.1,1704.3 379.9,1702.0 384.6,1699.8 389.4,1697.6 394.2,1695.4 398.9,1693.1 403.7,1690.9 408.4,1688.7 413.2,1686.5 417.9,1684.3 422.7,1682.1 427.4,1679.8 432.2,1677.6 436.9,1675.4 441.7,1673.2 446.4,1671.0 451.2,1668.7 455.9,1666.5 460.7,1664.3 465.4,1661.7 470.2,1659.0 474.9,1656.3 479.7,1653.6 484.4,1650.9 489.2,1648.2 493.9,1645.5 498.7,1642.8 503.4,1640.1 508.2,1637.4 512.9,1634.7 517.7,1631.9 522.4,1629.2 527.2,1626.5 531.9,1623.8 536.7,1621.0 541.4,1618.3 546.2,1615.6 550.9,1612.9 555.7,1610.2 560.4,1607.7 565.2,1605.3 569.9,1602.9 574.7,1600.5 579.4,1598.1 584.2,1595.7 588.9,1593.3 593.7,1590.9 598.4,1588.6 603.2,1586.2 603.2,1607.5 598.4,1609.8 593.7,1612.2 588.9,1614.6 584.2,1616.9 579.4,1619.3 574.7,1621.7 569.9,1624.1 565.2,1626.4 560.4,1628.8 555.7,1631.2 550.9,1633.7 546.2,1636.2 541.4,1638.8 536.7,1641.3 531.9,1643.8 527.2,1646.4 522.4,1648.9 517.7,1651.4 512.9,1653.9 508.2,1656.4 503.4,1658.9 498.7,1661.5 493.9,1664.0 489.2,1666.5 484.4,1669.0 479.7,1671.5 474.9,1673.9 470.2,1676.4 465.4,1678.9 460.7,1681.4 455.9,1683.7 451.2,1686.0 446.4,1688.4 441.7,1690.7 436.9,1693.0 432.2,1695.3 427.4,1697.7 422.7,1700.0 417.9,1702.2 413.2,1704.5 408.4,1706.7 403.7,1708.9 398.9,1711.1 394.2,1713.2 389.4,1715.3 384.6,1717.5 379.9,1719.7 375.1,1721.9 370.4,1724.2 365.6,1726.7 360.9,1729.2 356.1,1731.7 351.4,1734.2 346.6,1736.7 341.9,1739.2 337.1,1741.8 332.4,1744.3 327.6,1746.8 322.9,1749.4 318.1,1751.9 313.4,1754.4 308.6,1757.0 303.9,1759.5 299.1,1762.0 294.4,1764.6 289.6,1767.1 284.9,1769.6 280.1,1772.2 275.4,1774.7 270.6,1777.2 265.9,1779.8 261.1,1782.5 256.4,1785.3 251.6,1788.1 246.9,1790.8 242.1,1793.6 237.4,1796.4 232.6,1799.1 227.9,1801.7 223.1,1804.3 218.4,1806.8 213.6,1809.1 208.9,1811.3 204.1,1813.6 199.4,1815.2 194.6,1816.2 189.9,1816.8 185.1,1817.1 180.4,1817.4 175.6,1817.9" fill="#6f8a80" stroke="#6f8a80" stroke-width="0.6"/>
<polygon points="175.6,1817.9 180.4,1817.4 185.1,1817.1 189.9,1816.8 194.6,1816.2 199.4,1815.2 204.1,1813.6 208.9,1811.3 213.6,1809.1 218.4,1806.8 223.1,1804.3 227.9,1801.7 232.6,1799.1 237.4,1796.4 242.1,1793.6 246.9,1790.8 251.6,1788.1 256.4,1785.3 261.1,1782.5 265.9,1779.8 270.6,1777.2 275.4,1774.7 280.1,1772.2 284.9,1769.6 289.6,1767.1 294.4,1764.6 299.1,1762.0 303.9,1759.5 308.6,1757.0 313.4,1754.4 318.1,1751.9 322.9,1749.4 327.6,1746.8 332.4,1744.3 337.1,1741.8 341.9,1739.2 346.6,1736.7 351.4,1734.2 356.1,1731.7 360.9,1729.2 365.6,1726.7 370.4,1724.2 375.1,1721.9 379.9,1719.7 384.6,1717.5 389.4,1715.3 394.2,1713.2 398.9,1711.1 403.7,1708.9 408.4,1706.7 413.2,1704.5 417.9,1702.2 422.7,1700.0 427.4,1697.7 432.2,1695.3 436.9,1693.0 441.7,1690.7 446.4,1688.4 451.2,1686.0 455.9,1683.7 460.7,1681.4 465.4,1678.9 470.2,1676.4 474.9,1673.9 479.7,1671.5 484.4,1669.0 489.2,1666.5 493.9,1664.0 498.7,1661.5 503.4,1658.9 508.2,1656.4 512.9,1653.9 517.7,1651.4 522.4,1648.9 527.2,1646.4 531.9,1643.8 536.7,1641.3 541.4,1638.8 546.2,1636.2 550.9,1633.7 555.7,1631.2 560.4,1628.8 565.2,1626.4 569.9,1624.1 574.7,1621.7 579.4,1619.3 584.2,1616.9 588.9,1614.6 593.7,1612.2 598.4,1609.8 603.2,1607.5 603.2,1614.7 598.4,1617.1 593.7,1619.5 588.9,1621.8 584.2,1624.2 579.4,1626.6 574.7,1629.0 569.9,1631.4 565.2,1633.7 560.4,1636.1 555.7,1638.5 550.9,1640.9 546.2,1643.2 541.4,1645.6 536.7,1648.0 531.9,1650.4 527.2,1652.8 522.4,1655.2 517.7,1657.5 512.9,1659.9 508.2,1662.3 503.4,1664.7 498.7,1667.1 493.9,1669.5 489.2,1671.8 484.4,1674.2 479.7,1676.6 474.9,1678.9 470.2,1681.3 465.4,1683.7 460.7,1686.0 455.9,1688.4 451.2,1690.7 446.4,1693.1 441.7,1695.4 436.9,1697.8 432.2,1700.1 427.4,1702.5 422.7,1704.8 417.9,1707.1 413.2,1709.3 408.4,1711.5 403.7,1713.7 398.9,1715.8 394.2,1717.9 389.4,1719.9 384.6,1722.0 379.9,1724.2 375.1,1726.4 370.4,1728.7 365.6,1731.2 360.9,1733.7 356.1,1736.2 351.4,1738.7 346.6,1741.3 341.9,1743.9 337.1,1746.4 332.4,1749.0 327.6,1751.6 322.9,1754.2 318.1,1756.8 313.4,1759.4 308.6,1762.0 303.9,1764.6 299.1,1767.1 294.4,1769.7 289.6,1772.3 284.9,1774.9 280.1,1777.4 275.4,1779.9 270.6,1782.5 265.9,1784.7 261.1,1787.0 256.4,1789.3 251.6,1791.7 246.9,1794.1 242.1,1796.4 237.4,1798.8 232.6,1801.1 227.9,1803.3 223.1,1805.5 218.4,1807.6 213.6,1809.6 208.9,1811.4 204.1,1813.6 199.4,1815.2 194.6,1816.2 189.9,1816.8 185.1,1817.1 180.4,1817.4 175.6,1817.9" fill="#20d8b0" stroke="#20d8b0" stroke-width="0.6"/>
<polygon points="175.6,1817.9 180.4,1817.4 185.1,1817.1 189.9,1816.8 194.6,1816.2 199.4,1815.2 204.1,1813.6 208.9,1811.4 213.6,1809.6 218.4,1807.6 223.1,1805.5 227.9,1803.3 232.6,1801.1 237.4,1798.8 242.1,1796.4 246.9,1794.1 251.6,1791.7 256.4,1789.3 261.1,1787.0 265.9,1784.7 270.6,1782.5 275.4,1779.9 280.1,1777.4 284.9,1774.9 289.6,1772.3 294.4,1769.7 299.1,1767.1 303.9,1764.6 308.6,1762.0 313.4,1759.4 318.1,1756.8 322.9,1754.2 327.6,1751.6 332.4,1749.0 337.1,1746.4 341.9,1743.9 346.6,1741.3 351.4,1738.7 356.1,1736.2 360.9,1733.7 365.6,1731.2 370.4,1728.7 375.1,1726.4 379.9,1724.2 384.6,1722.0 389.4,1719.9 394.2,1717.9 398.9,1715.8 403.7,1713.7 408.4,1711.5 413.2,1709.3 417.9,1707.1 422.7,1704.8 427.4,1702.5 432.2,1700.1 436.9,1697.8 441.7,1695.4 446.4,1693.1 451.2,1690.7 455.9,1688.4 460.7,1686.0 465.4,1683.7 470.2,1681.3 474.9,1678.9 479.7,1676.6 484.4,1674.2 489.2,1671.8 493.9,1669.5 498.7,1667.1 503.4,1664.7 508.2,1662.3 512.9,1659.9 517.7,1657.5 522.4,1655.2 527.2,1652.8 531.9,1650.4 536.7,1648.0 541.4,1645.6 546.2,1643.2 550.9,1640.9 555.7,1638.5 560.4,1636.1 565.2,1633.7 569.9,1631.4 574.7,1629.0 579.4,1626.6 584.2,1624.2 588.9,1621.8 593.7,1619.5 598.4,1617.1 603.2,1614.7 603.2,1614.7 598.4,1617.1 593.7,1619.5 588.9,1621.8 584.2,1624.2 579.4,1626.6 574.7,1629.0 569.9,1631.4 565.2,1633.7 560.4,1636.1 555.7,1638.5 550.9,1640.9 546.2,1643.2 541.4,1645.6 536.7,1648.0 531.9,1650.4 527.2,1652.8 522.4,1655.2 517.7,1657.5 512.9,1659.9 508.2,1662.3 503.4,1664.7 498.7,1667.1 493.9,1669.5 489.2,1671.8 484.4,1674.2 479.7,1676.6 474.9,1678.9 470.2,1681.3 465.4,1683.7 460.7,1686.0 455.9,1688.4 451.2,1690.7 446.4,1693.1 441.7,1695.4 436.9,1697.8 432.2,1700.1 427.4,1702.5 422.7,1704.8 417.9,1707.1 413.2,1709.3 408.4,1711.5 403.7,1713.7 398.9,1715.8 394.2,1717.9 389.4,1719.9 384.6,1722.0 379.9,1724.2 375.1,1726.4 370.4,1728.7 365.6,1731.2 360.9,1733.7 356.1,1736.2 351.4,1738.7 346.6,1741.3 341.9,1743.9 337.1,1746.4 332.4,1749.0 327.6,1751.6 322.9,1754.2 318.1,1756.8 313.4,1759.4 308.6,1762.0 303.9,1764.6 299.1,1767.1 294.4,1769.7 289.6,1772.3 284.9,1774.9 280.1,1777.4 275.4,1779.9 270.6,1782.5 265.9,1785.0 261.1,1787.6 256.4,1790.3 251.6,1793.0 246.9,1795.7 242.1,1798.3 237.4,1801.0 232.6,1803.6 227.9,1806.1 223.1,1808.6 218.4,1811.0 213.6,1813.2 208.9,1815.3 204.1,1817.0 199.4,1817.9 194.6,1818.2 189.9,1818.1 185.1,1817.9 180.4,1817.8 175.6,1817.9" fill="#1d5c9c" stroke="#1d5c9c" stroke-width="0.6"/>
</g>
<rect x="175.6" y="1443.7" width="427.6" height="371.9" fill="none" stroke="#6d6d6d" stroke-width="2"/>
<line x1="175.6" y1="1815.6" x2="181.6" y2="1815.6" stroke="#333" stroke-width="2" />
<text x="165.5" y="1829.4" font-size="38.5" text-anchor="end" fill="#000" >0</text>
<line x1="175.6" y1="1758.5" x2="181.6" y2="1758.5" stroke="#333" stroke-width="2" />
<text x="165.5" y="1772.3" font-size="38.5" text-anchor="end" fill="#000" >50</text>
<line x1="175.6" y1="1701.3" x2="181.6" y2="1701.3" stroke="#333" stroke-width="2" />
<text x="165.5" y="1715.1" font-size="38.5" text-anchor="end" fill="#000" >100</text>
<line x1="175.6" y1="1644.2" x2="181.6" y2="1644.2" stroke="#333" stroke-width="2" />
<text x="165.5" y="1658.0" font-size="38.5" text-anchor="end" fill="#000" >150</text>
<line x1="175.6" y1="1587.1" x2="181.6" y2="1587.1" stroke="#333" stroke-width="2" />
<text x="165.5" y="1600.9" font-size="38.5" text-anchor="end" fill="#000" >200</text>
<line x1="175.6" y1="1529.9" x2="181.6" y2="1529.9" stroke="#333" stroke-width="2" />
<text x="165.5" y="1543.7" font-size="38.5" text-anchor="end" fill="#000" >250</text>
<line x1="175.6" y1="1472.8" x2="181.6" y2="1472.8" stroke="#333" stroke-width="2" />
<text x="165.5" y="1486.6" font-size="38.5" text-anchor="end" fill="#000" >300</text>
<line x1="175.6" y1="1787.0" x2="179.1" y2="1787.0" stroke="#333" stroke-width="1.5" />
<line x1="175.6" y1="1729.9" x2="179.1" y2="1729.9" stroke="#333" stroke-width="1.5" />
<line x1="175.6" y1="1672.8" x2="179.1" y2="1672.8" stroke="#333" stroke-width="1.5" />
<line x1="175.6" y1="1615.6" x2="179.1" y2="1615.6" stroke="#333" stroke-width="1.5" />
<line x1="175.6" y1="1558.5" x2="179.1" y2="1558.5" stroke="#333" stroke-width="1.5" />
<line x1="175.6" y1="1501.4" x2="179.1" y2="1501.4" stroke="#333" stroke-width="1.5" />
<line x1="175.6" y1="1815.6" x2="175.6" y2="1809.6" stroke="#333" stroke-width="2" />
<text x="175.6" y="1860.0" font-size="38.5" text-anchor="middle" fill="#000" >0</text>
<line x1="270.6" y1="1815.6" x2="270.6" y2="1809.6" stroke="#333" stroke-width="2" />
<text x="270.6" y="1860.0" font-size="38.5" text-anchor="middle" fill="#000" >400</text>
<line x1="365.6" y1="1815.6" x2="365.6" y2="1809.6" stroke="#333" stroke-width="2" />
<text x="365.6" y="1860.0" font-size="38.5" text-anchor="middle" fill="#000" >800</text>
<line x1="460.7" y1="1815.6" x2="460.7" y2="1809.6" stroke="#333" stroke-width="2" />
<text x="460.7" y="1860.0" font-size="38.5" text-anchor="middle" fill="#000" >1200</text>
<line x1="555.7" y1="1815.6" x2="555.7" y2="1809.6" stroke="#333" stroke-width="2" />
<text x="555.7" y="1860.0" font-size="38.5" text-anchor="middle" fill="#000" >1600</text>
<line x1="223.1" y1="1815.6" x2="223.1" y2="1812.1" stroke="#333" stroke-width="1.5" />
<line x1="318.1" y1="1815.6" x2="318.1" y2="1812.1" stroke="#333" stroke-width="1.5" />
<line x1="413.2" y1="1815.6" x2="413.2" y2="1812.1" stroke="#333" stroke-width="1.5" />
<line x1="508.2" y1="1815.6" x2="508.2" y2="1812.1" stroke="#333" stroke-width="1.5" />
<text x="405.0" y="1900.0" font-size="38" text-anchor="middle" fill="#000" >t (s)</text>
<text x="0" y="0" font-size="38" text-anchor="middle" transform="translate(84.0,1631.0) rotate(-90)">Water loss (mg)</text>
<line x1="190.0" y1="1483.2" x2="281.0" y2="1483.2" stroke="#1d5f9f" stroke-width="1.5" />
<rect x="229.2" y="1476.2" width="14.0" height="14.0" fill="#1d5f9f" />
<text x="288.0" y="1497.0" font-size="38" text-anchor="start" fill="#000" >One layer</text>
<line x1="190.0" y1="1534.8" x2="281.0" y2="1534.8" stroke="#20d8b0" stroke-width="1.5" />
<circle cx="236.2" cy="1534.8" r="7.0" fill="#20d8b0"/>
<text x="288.0" y="1548.6" font-size="38" text-anchor="start" fill="#000" >Three layers</text>
<line x1="190.0" y1="1584.4" x2="281.0" y2="1584.4" stroke="#6f8a80" stroke-width="1.5" />
<polygon points="236.2,1576.4 244.2,1590.4 228.1,1590.4" fill="#6f8a80" />
<text x="288.0" y="1598.2" font-size="38" text-anchor="start" fill="#000" >Five layers</text>
<rect x="800.0" y="1680.2" width="56.0" height="137.3" fill="#6aa6da" />
<rect x="856.0" y="1666.9" width="57.3" height="150.6" fill="#9fb0a9" />
<line x1="828.0" y1="1706.9" x2="828.0" y2="1654.3" stroke="#5a6ee0" stroke-width="1.2" />
<line x1="825.0" y1="1654.3" x2="831.0" y2="1654.3" stroke="#5a6ee0" stroke-width="1.2" />
<line x1="825.0" y1="1706.9" x2="831.0" y2="1706.9" stroke="#5a6ee0" stroke-width="1.2" />
<line x1="884.6" y1="1669.1" x2="884.6" y2="1663.2" stroke="#5a6ee0" stroke-width="1.2" />
<line x1="881.6" y1="1663.2" x2="887.6" y2="1663.2" stroke="#5a6ee0" stroke-width="1.2" />
<line x1="881.6" y1="1669.1" x2="887.6" y2="1669.1" stroke="#5a6ee0" stroke-width="1.2" />
<rect x="942.0" y="1625.3" width="57.4" height="192.2" fill="#6aa6da" />
<rect x="999.4" y="1612.7" width="56.2" height="204.8" fill="#9fb0a9" />
<line x1="970.7" y1="1628.3" x2="970.7" y2="1622.4" stroke="#5a6ee0" stroke-width="1.2" />
<line x1="967.7" y1="1622.4" x2="973.7" y2="1622.4" stroke="#5a6ee0" stroke-width="1.2" />
<line x1="967.7" y1="1628.3" x2="973.7" y2="1628.3" stroke="#5a6ee0" stroke-width="1.2" />
<line x1="1027.5" y1="1630.5" x2="1027.5" y2="1594.9" stroke="#5a6ee0" stroke-width="1.2" />
<line x1="1024.5" y1="1594.9" x2="1030.5" y2="1594.9" stroke="#5a6ee0" stroke-width="1.2" />
<line x1="1024.5" y1="1630.5" x2="1030.5" y2="1630.5" stroke="#5a6ee0" stroke-width="1.2" />
<rect x="1085.0" y="1522.2" width="57.0" height="295.3" fill="#6aa6da" />
<rect x="1142.0" y="1510.3" width="57.3" height="307.2" fill="#9fb0a9" />
<line x1="1113.5" y1="1542.2" x2="1113.5" y2="1500.7" stroke="#5a6ee0" stroke-width="1.2" />
<line x1="1110.5" y1="1500.7" x2="1116.5" y2="1500.7" stroke="#5a6ee0" stroke-width="1.2" />
<line x1="1110.5" y1="1542.2" x2="1116.5" y2="1542.2" stroke="#5a6ee0" stroke-width="1.2" />
<line x1="1170.7" y1="1524.4" x2="1170.7" y2="1497.0" stroke="#5a6ee0" stroke-width="1.2" />
<line x1="1167.7" y1="1497.0" x2="1173.7" y2="1497.0" stroke="#5a6ee0" stroke-width="1.2" />
<line x1="1167.7" y1="1524.4" x2="1173.7" y2="1524.4" stroke="#5a6ee0" stroke-width="1.2" />
<rect x="784.9" y="1446.5" width="429.7" height="371.0" fill="none" stroke="#6d6d6d" stroke-width="2"/>
<line x1="784.9" y1="1817.5" x2="790.9" y2="1817.5" stroke="#333" stroke-width="2" />
<text x="774.0" y="1831.3" font-size="38.5" text-anchor="end" fill="#000" >0</text>
<line x1="784.9" y1="1743.3" x2="790.9" y2="1743.3" stroke="#333" stroke-width="2" />
<text x="774.0" y="1757.1" font-size="38.5" text-anchor="end" fill="#000" >100</text>
<line x1="784.9" y1="1669.1" x2="790.9" y2="1669.1" stroke="#333" stroke-width="2" />
<text x="774.0" y="1682.9" font-size="38.5" text-anchor="end" fill="#000" >200</text>
<line x1="784.9" y1="1594.9" x2="790.9" y2="1594.9" stroke="#333" stroke-width="2" />
<text x="774.0" y="1608.7" font-size="38.5" text-anchor="end" fill="#000" >300</text>
<line x1="784.9" y1="1520.7" x2="790.9" y2="1520.7" stroke="#333" stroke-width="2" />
<text x="774.0" y="1534.5" font-size="38.5" text-anchor="end" fill="#000" >400</text>
<line x1="784.9" y1="1446.5" x2="790.9" y2="1446.5" stroke="#333" stroke-width="2" />
<text x="774.0" y="1460.3" font-size="38.5" text-anchor="end" fill="#000" >500</text>
<line x1="784.9" y1="1780.4" x2="788.4" y2="1780.4" stroke="#333" stroke-width="1.5" />
<line x1="784.9" y1="1706.2" x2="788.4" y2="1706.2" stroke="#333" stroke-width="1.5" />
<line x1="784.9" y1="1632.0" x2="788.4" y2="1632.0" stroke="#333" stroke-width="1.5" />
<line x1="784.9" y1="1557.8" x2="788.4" y2="1557.8" stroke="#333" stroke-width="1.5" />
<line x1="784.9" y1="1483.6" x2="788.4" y2="1483.6" stroke="#333" stroke-width="1.5" />
<line x1="856.0" y1="1817.5" x2="856.0" y2="1811.5" stroke="#333" stroke-width="2" />
<line x1="999.4" y1="1817.5" x2="999.4" y2="1811.5" stroke="#333" stroke-width="2" />
<line x1="1142.0" y1="1817.5" x2="1142.0" y2="1811.5" stroke="#333" stroke-width="2" />
<text x="856.0" y="1857.0" font-size="38" text-anchor="middle" fill="#000" >5</text>
<text x="999.4" y="1857.0" font-size="38" text-anchor="middle" fill="#000" >10</text>
<text x="1142.0" y="1857.0" font-size="38" text-anchor="middle" fill="#000" >15</text>
<text x="999.0" y="1903.0" font-size="38" text-anchor="middle" fill="#000" >Power (W)</text>
<text x="0" y="0" font-size="38" text-anchor="middle" transform="translate(688.0,1629.0) rotate(-90)">Water loss (mg h<tspan font-size="21" dy="-13">&#8722;1</tspan><tspan dy="13">)</tspan></text>
<rect x="788.3" y="1450.6" width="90.9" height="44.2" fill="#6aa6da" />
<rect x="788.3" y="1501.3" width="90.9" height="44.7" fill="#9fb0a9" />
<text x="890.0" y="1486.0" font-size="38" text-anchor="start" fill="#000" >Star</text>
<text x="890.0" y="1537.5" font-size="37.5" text-anchor="start" fill="#000" >Triangle</text>
</svg></body></html>
